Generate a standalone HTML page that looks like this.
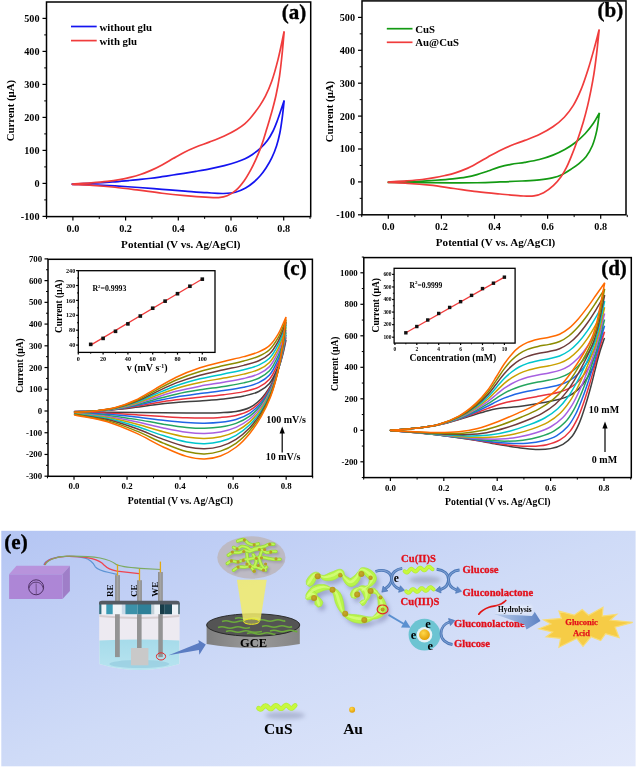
<!DOCTYPE html><html><head><meta charset="utf-8"><style>html,body{margin:0;padding:0;background:#fff;}svg{display:block;filter:blur(0.3px);}text{font-family:"Liberation Serif",serif;}</style></head><body>
<svg width="637" height="768" viewBox="0 0 637 768">
<rect width="637" height="768" fill="#fff"/>
<rect x="46.50" y="2.00" width="264.20" height="214.60" fill="none" stroke="#000" stroke-width="1.50"/>
<line x1="72.90" y1="216.60" x2="72.90" y2="220.60" stroke="#000" stroke-width="1.20"/>
<line x1="125.60" y1="216.60" x2="125.60" y2="220.60" stroke="#000" stroke-width="1.20"/>
<line x1="178.30" y1="216.60" x2="178.30" y2="220.60" stroke="#000" stroke-width="1.20"/>
<line x1="231.00" y1="216.60" x2="231.00" y2="220.60" stroke="#000" stroke-width="1.20"/>
<line x1="283.70" y1="216.60" x2="283.70" y2="220.60" stroke="#000" stroke-width="1.20"/>
<line x1="46.55" y1="216.60" x2="46.55" y2="218.90" stroke="#000" stroke-width="1.00"/>
<line x1="99.25" y1="216.60" x2="99.25" y2="218.90" stroke="#000" stroke-width="1.00"/>
<line x1="151.95" y1="216.60" x2="151.95" y2="218.90" stroke="#000" stroke-width="1.00"/>
<line x1="204.65" y1="216.60" x2="204.65" y2="218.90" stroke="#000" stroke-width="1.00"/>
<line x1="257.35" y1="216.60" x2="257.35" y2="218.90" stroke="#000" stroke-width="1.00"/>
<line x1="310.05" y1="216.60" x2="310.05" y2="218.90" stroke="#000" stroke-width="1.00"/>
<line x1="42.50" y1="216.40" x2="46.50" y2="216.40" stroke="#000" stroke-width="1.20"/>
<line x1="42.50" y1="183.40" x2="46.50" y2="183.40" stroke="#000" stroke-width="1.20"/>
<line x1="42.50" y1="150.40" x2="46.50" y2="150.40" stroke="#000" stroke-width="1.20"/>
<line x1="42.50" y1="117.40" x2="46.50" y2="117.40" stroke="#000" stroke-width="1.20"/>
<line x1="42.50" y1="84.40" x2="46.50" y2="84.40" stroke="#000" stroke-width="1.20"/>
<line x1="42.50" y1="51.40" x2="46.50" y2="51.40" stroke="#000" stroke-width="1.20"/>
<line x1="42.50" y1="18.40" x2="46.50" y2="18.40" stroke="#000" stroke-width="1.20"/>
<line x1="44.20" y1="199.90" x2="46.50" y2="199.90" stroke="#000" stroke-width="1.00"/>
<line x1="44.20" y1="166.90" x2="46.50" y2="166.90" stroke="#000" stroke-width="1.00"/>
<line x1="44.20" y1="133.90" x2="46.50" y2="133.90" stroke="#000" stroke-width="1.00"/>
<line x1="44.20" y1="100.90" x2="46.50" y2="100.90" stroke="#000" stroke-width="1.00"/>
<line x1="44.20" y1="67.90" x2="46.50" y2="67.90" stroke="#000" stroke-width="1.00"/>
<line x1="44.20" y1="34.90" x2="46.50" y2="34.90" stroke="#000" stroke-width="1.00"/>
<text x="72.90" y="232.20" font-size="10.20" text-anchor="middle" fill="#000" font-weight="bold" >0.0</text>
<text x="125.60" y="232.20" font-size="10.20" text-anchor="middle" fill="#000" font-weight="bold" >0.2</text>
<text x="178.30" y="232.20" font-size="10.20" text-anchor="middle" fill="#000" font-weight="bold" >0.4</text>
<text x="231.00" y="232.20" font-size="10.20" text-anchor="middle" fill="#000" font-weight="bold" >0.6</text>
<text x="283.70" y="232.20" font-size="10.20" text-anchor="middle" fill="#000" font-weight="bold" >0.8</text>
<text x="39.50" y="219.87" font-size="10.20" text-anchor="end" fill="#000" font-weight="bold" >-100</text>
<text x="39.50" y="186.87" font-size="10.20" text-anchor="end" fill="#000" font-weight="bold" >0</text>
<text x="39.50" y="153.87" font-size="10.20" text-anchor="end" fill="#000" font-weight="bold" >100</text>
<text x="39.50" y="120.87" font-size="10.20" text-anchor="end" fill="#000" font-weight="bold" >200</text>
<text x="39.50" y="87.87" font-size="10.20" text-anchor="end" fill="#000" font-weight="bold" >300</text>
<text x="39.50" y="54.87" font-size="10.20" text-anchor="end" fill="#000" font-weight="bold" >400</text>
<text x="39.50" y="21.87" font-size="10.20" text-anchor="end" fill="#000" font-weight="bold" >500</text>
<text x="180.80" y="248.20" font-size="11.10" text-anchor="middle" fill="#000" font-weight="bold" >Potential (V vs. Ag/AgCl)</text>
<text x="0" y="0" font-size="10.8" font-weight="bold" text-anchor="middle" transform="translate(14.2,110.6) rotate(-90)">Current (&#956;A)</text>
<text x="294.10" y="18.80" font-size="21.00" text-anchor="middle" fill="#000" font-weight="bold" stroke="#000" stroke-width="0.35">(a)</text>
<line x1="71.00" y1="26.50" x2="96.70" y2="26.50" stroke="#1414F0" stroke-width="1.70"/>
<text x="99.50" y="30.70" font-size="10.80" text-anchor="start" fill="#000" font-weight="bold" >without glu</text>
<line x1="71.00" y1="40.60" x2="96.70" y2="40.60" stroke="#F03C3C" stroke-width="1.70"/>
<text x="99.50" y="44.80" font-size="10.80" text-anchor="start" fill="#000" font-weight="bold" >with glu</text>
<path d="M72.20,184.00 C78.98,183.72 85.79,183.50 92.55,183.15 C99.26,182.80 106.29,182.36 112.60,181.90 C118.26,181.49 123.77,180.98 128.70,180.55 C132.90,180.18 136.56,179.86 140.35,179.47 C143.98,179.10 147.42,178.73 151.00,178.27 C154.64,177.81 158.33,177.24 162.00,176.70 C165.67,176.16 169.33,175.59 173.00,175.03 C176.67,174.46 180.26,173.92 184.00,173.32 C187.91,172.70 191.86,172.06 196.00,171.35 C200.45,170.58 205.17,169.79 209.82,168.85 C214.61,167.88 219.70,166.78 224.32,165.60 C228.62,164.50 232.98,163.30 236.68,162.05 C239.76,161.00 242.42,160.02 245.05,158.75 C247.54,157.55 249.72,156.27 252.07,154.70 C254.69,152.96 257.48,150.94 259.98,148.65 C262.60,146.24 265.21,143.46 267.40,140.50 C269.62,137.50 271.52,134.12 273.20,130.75 C274.88,127.38 276.17,123.76 277.48,120.28 C278.75,116.88 279.82,113.45 280.95,110.10 C282.06,106.83 283.12,103.63 284.20,100.40 C283.52,106.38 282.92,112.68 282.15,118.35 C281.45,123.50 280.82,128.33 279.85,133.03 C278.94,137.44 277.94,141.62 276.60,145.75 C275.28,149.83 273.68,153.88 271.88,157.65 C270.13,161.29 268.06,164.87 266.00,168.03 C264.15,170.87 262.26,173.42 260.20,175.80 C258.23,178.06 256.27,180.03 253.95,182.00 C251.44,184.14 248.63,186.38 245.60,188.07 C242.47,189.83 239.01,191.39 235.43,192.30 C231.70,193.24 227.88,193.38 223.60,193.50 C218.56,193.64 212.98,193.08 207.07,192.72 C200.25,192.31 192.43,191.64 185.00,191.07 C177.41,190.49 169.67,189.87 162.00,189.28 C154.33,188.68 146.75,188.07 139.00,187.52 C131.09,186.96 122.87,186.40 115.00,185.95 C107.39,185.52 99.85,185.15 92.55,184.88 C85.60,184.61 78.98,184.49 72.20,184.30" fill="none" stroke="#1414F0" stroke-width="1.70" stroke-linejoin="miter" stroke-miterlimit="3" stroke-linecap="round"/>
<path d="M72.20,184.00 C78.53,183.60 85.13,183.26 91.17,182.80 C96.73,182.38 102.16,181.95 107.12,181.38 C111.51,180.86 115.53,180.29 119.47,179.60 C123.15,178.95 126.58,178.25 130.07,177.40 C133.54,176.56 136.92,175.67 140.35,174.52 C143.90,173.35 147.46,171.96 151.00,170.40 C154.67,168.78 158.36,166.87 162.00,164.92 C165.70,162.94 169.33,160.69 173.00,158.60 C176.66,156.52 180.21,154.32 184.00,152.40 C187.87,150.44 191.83,148.71 196.00,147.00 C200.42,145.19 205.18,143.71 209.82,141.90 C214.62,140.04 219.73,138.11 224.32,135.97 C228.66,133.96 233.06,131.69 236.68,129.47 C239.71,127.62 242.37,125.77 244.70,123.80 C246.75,122.07 248.35,120.34 250.05,118.45 C251.79,116.51 253.40,114.44 255.03,112.30 C256.72,110.08 258.36,107.88 260.00,105.38 C261.83,102.57 263.67,99.67 265.43,96.20 C267.55,91.99 269.66,87.15 271.57,81.78 C273.89,75.30 275.94,67.72 277.93,59.90 C280.18,51.04 282.11,40.83 284.20,31.30 C283.48,39.07 282.85,46.98 282.05,54.60 C281.28,61.97 280.54,69.37 279.50,76.30 C278.54,82.72 277.36,89.04 276.12,94.78 C275.03,99.84 273.78,104.58 272.60,109.00 C271.56,112.90 270.50,116.37 269.45,119.95 C268.44,123.40 267.43,126.72 266.40,130.10 C265.38,133.47 264.39,136.88 263.30,140.18 C262.24,143.39 261.18,146.49 259.98,149.62 C258.75,152.80 257.46,155.88 256.00,159.10 C254.44,162.54 252.80,166.11 250.88,169.65 C248.83,173.41 246.58,177.49 244.02,181.00 C241.54,184.41 238.78,187.91 235.80,190.45 C233.12,192.74 230.18,194.63 227.20,195.82 C224.43,196.94 221.78,197.33 218.60,197.60 C214.74,197.92 210.46,197.40 205.65,197.12 C199.56,196.78 192.06,196.18 185.00,195.55 C177.54,194.89 169.66,194.12 162.00,193.23 C154.33,192.33 146.75,191.19 139.00,190.20 C131.09,189.19 122.87,188.08 115.00,187.25 C107.40,186.45 99.85,185.80 92.55,185.30 C85.60,184.83 78.98,184.63 72.20,184.30" fill="none" stroke="#F03C3C" stroke-width="1.70" stroke-linejoin="miter" stroke-miterlimit="3" stroke-linecap="round"/>
<rect x="362.00" y="0.90" width="264.00" height="213.90" fill="none" stroke="#000" stroke-width="1.50"/>
<line x1="388.30" y1="214.80" x2="388.30" y2="218.80" stroke="#000" stroke-width="1.20"/>
<line x1="441.40" y1="214.80" x2="441.40" y2="218.80" stroke="#000" stroke-width="1.20"/>
<line x1="494.50" y1="214.80" x2="494.50" y2="218.80" stroke="#000" stroke-width="1.20"/>
<line x1="547.60" y1="214.80" x2="547.60" y2="218.80" stroke="#000" stroke-width="1.20"/>
<line x1="600.70" y1="214.80" x2="600.70" y2="218.80" stroke="#000" stroke-width="1.20"/>
<line x1="361.75" y1="214.80" x2="361.75" y2="217.10" stroke="#000" stroke-width="1.00"/>
<line x1="414.85" y1="214.80" x2="414.85" y2="217.10" stroke="#000" stroke-width="1.00"/>
<line x1="467.95" y1="214.80" x2="467.95" y2="217.10" stroke="#000" stroke-width="1.00"/>
<line x1="521.05" y1="214.80" x2="521.05" y2="217.10" stroke="#000" stroke-width="1.00"/>
<line x1="574.15" y1="214.80" x2="574.15" y2="217.10" stroke="#000" stroke-width="1.00"/>
<line x1="627.25" y1="214.80" x2="627.25" y2="217.10" stroke="#000" stroke-width="1.00"/>
<line x1="358.00" y1="214.80" x2="362.00" y2="214.80" stroke="#000" stroke-width="1.20"/>
<line x1="358.00" y1="181.90" x2="362.00" y2="181.90" stroke="#000" stroke-width="1.20"/>
<line x1="358.00" y1="149.00" x2="362.00" y2="149.00" stroke="#000" stroke-width="1.20"/>
<line x1="358.00" y1="116.10" x2="362.00" y2="116.10" stroke="#000" stroke-width="1.20"/>
<line x1="358.00" y1="83.20" x2="362.00" y2="83.20" stroke="#000" stroke-width="1.20"/>
<line x1="358.00" y1="50.30" x2="362.00" y2="50.30" stroke="#000" stroke-width="1.20"/>
<line x1="358.00" y1="17.40" x2="362.00" y2="17.40" stroke="#000" stroke-width="1.20"/>
<line x1="359.70" y1="198.35" x2="362.00" y2="198.35" stroke="#000" stroke-width="1.00"/>
<line x1="359.70" y1="165.45" x2="362.00" y2="165.45" stroke="#000" stroke-width="1.00"/>
<line x1="359.70" y1="132.55" x2="362.00" y2="132.55" stroke="#000" stroke-width="1.00"/>
<line x1="359.70" y1="99.65" x2="362.00" y2="99.65" stroke="#000" stroke-width="1.00"/>
<line x1="359.70" y1="66.75" x2="362.00" y2="66.75" stroke="#000" stroke-width="1.00"/>
<line x1="359.70" y1="33.85" x2="362.00" y2="33.85" stroke="#000" stroke-width="1.00"/>
<text x="388.30" y="230.40" font-size="10.20" text-anchor="middle" fill="#000" font-weight="bold" >0.0</text>
<text x="441.40" y="230.40" font-size="10.20" text-anchor="middle" fill="#000" font-weight="bold" >0.2</text>
<text x="494.50" y="230.40" font-size="10.20" text-anchor="middle" fill="#000" font-weight="bold" >0.4</text>
<text x="547.60" y="230.40" font-size="10.20" text-anchor="middle" fill="#000" font-weight="bold" >0.6</text>
<text x="600.70" y="230.40" font-size="10.20" text-anchor="middle" fill="#000" font-weight="bold" >0.8</text>
<text x="355.00" y="218.27" font-size="10.20" text-anchor="end" fill="#000" font-weight="bold" >-100</text>
<text x="355.00" y="185.37" font-size="10.20" text-anchor="end" fill="#000" font-weight="bold" >0</text>
<text x="355.00" y="152.47" font-size="10.20" text-anchor="end" fill="#000" font-weight="bold" >100</text>
<text x="355.00" y="119.57" font-size="10.20" text-anchor="end" fill="#000" font-weight="bold" >200</text>
<text x="355.00" y="86.67" font-size="10.20" text-anchor="end" fill="#000" font-weight="bold" >300</text>
<text x="355.00" y="53.77" font-size="10.20" text-anchor="end" fill="#000" font-weight="bold" >400</text>
<text x="355.00" y="20.87" font-size="10.20" text-anchor="end" fill="#000" font-weight="bold" >500</text>
<text x="495.50" y="246.40" font-size="11.10" text-anchor="middle" fill="#000" font-weight="bold" >Potential (V vs. Ag/AgCl)</text>
<text x="0" y="0" font-size="10.8" font-weight="bold" text-anchor="middle" transform="translate(332.6,111.5) rotate(-90)">Current (&#956;A)</text>
<text x="610.30" y="17.30" font-size="21.00" text-anchor="middle" fill="#000" font-weight="bold" stroke="#000" stroke-width="0.35">(b)</text>
<line x1="386.80" y1="28.70" x2="412.50" y2="28.70" stroke="#139A13" stroke-width="1.70"/>
<text x="415.30" y="32.80" font-size="10.80" text-anchor="start" fill="#000" font-weight="bold" >CuS</text>
<line x1="386.80" y1="42.30" x2="412.50" y2="42.30" stroke="#F03C3C" stroke-width="1.70"/>
<text x="415.30" y="46.40" font-size="10.80" text-anchor="start" fill="#000" font-weight="bold" >Au@CuS</text>
<path d="M388.30,182.00 C393.89,181.89 399.71,181.81 405.07,181.68 C410.03,181.55 414.47,181.47 419.38,181.25 C424.59,181.01 430.05,180.67 435.50,180.27 C441.12,179.87 447.27,179.42 452.62,178.85 C457.36,178.35 461.78,177.88 466.00,177.12 C469.86,176.43 473.36,175.60 477.00,174.58 C480.69,173.54 484.34,172.19 488.00,170.95 C491.67,169.71 495.22,168.22 499.00,167.12 C502.88,166.00 506.84,165.11 511.00,164.32 C515.43,163.49 520.17,163.13 524.83,162.35 C529.61,161.55 534.61,160.77 539.33,159.55 C543.97,158.35 548.60,156.84 552.92,155.12 C557.07,153.48 561.01,151.65 564.77,149.53 C568.49,147.43 572.02,145.10 575.40,142.46 C578.86,139.76 582.28,136.69 585.30,133.47 C588.27,130.30 591.02,126.81 593.40,123.31 C595.69,119.95 597.40,116.37 599.40,112.90 C598.52,118.81 598.02,125.00 596.77,130.64 C595.61,135.92 594.26,141.20 592.33,145.74 C590.59,149.81 588.43,153.64 586.02,156.74 C583.91,159.46 581.47,161.51 578.96,163.59 C576.47,165.66 573.76,167.41 571.03,169.20 C568.23,171.03 565.42,172.98 562.34,174.42 C559.17,175.91 555.84,177.03 552.23,177.93 C548.23,178.91 543.95,179.38 539.33,179.88 C534.00,180.45 528.18,180.67 522.08,181.00 C515.17,181.38 507.43,181.69 500.00,181.97 C492.41,182.27 484.88,182.60 477.00,182.75 C468.66,182.91 460.26,182.88 451.25,182.85 C441.30,182.82 430.31,182.60 419.82,182.53 C409.33,182.45 398.81,182.44 388.30,182.40" fill="none" stroke="#139A13" stroke-width="1.70" stroke-linejoin="miter" stroke-miterlimit="3" stroke-linecap="round"/>
<path d="M388.30,182.00 C394.35,181.62 400.62,181.29 406.45,180.85 C411.87,180.45 417.22,180.07 422.12,179.50 C426.49,178.99 430.53,178.40 434.48,177.70 C438.15,177.05 441.58,176.29 445.07,175.48 C448.54,174.67 451.92,173.90 455.35,172.82 C458.90,171.72 462.47,170.45 466.00,168.90 C469.69,167.29 473.36,165.25 477.00,163.28 C480.69,161.27 484.32,159.01 488.00,156.95 C491.66,154.90 495.22,152.81 499.00,150.93 C502.88,148.99 506.83,147.21 511.00,145.50 C515.41,143.69 520.18,142.20 524.83,140.40 C529.62,138.54 534.64,136.77 539.33,134.50 C544.01,132.23 548.72,129.70 552.92,126.78 C557.03,123.92 560.90,120.79 564.30,117.22 C567.70,113.66 570.62,109.78 573.33,105.40 C576.28,100.61 578.72,95.16 581.10,89.45 C583.71,83.19 585.97,76.07 588.15,69.25 C590.35,62.38 592.34,55.19 594.23,48.40 C596.01,41.96 597.54,35.80 599.20,29.50 C598.32,37.79 597.49,46.57 596.55,54.38 C595.71,61.34 594.86,67.90 593.88,74.12 C592.98,79.76 592.02,84.86 590.98,90.15 C589.94,95.36 588.90,100.38 587.64,105.61 C586.32,111.08 584.88,116.66 583.23,122.28 C581.51,128.11 579.50,134.26 577.50,139.99 C575.59,145.46 573.48,151.02 571.50,155.90 C569.78,160.14 568.21,164.05 566.36,167.67 C564.69,170.96 563.12,173.85 561.03,176.77 C558.81,179.88 556.19,183.06 553.30,185.72 C550.39,188.41 546.99,191.08 543.62,192.80 C540.52,194.38 537.48,195.38 533.95,195.92 C529.91,196.55 525.56,196.06 520.65,195.82 C514.52,195.53 507.07,194.68 500.00,194.00 C492.54,193.28 484.66,192.54 477.00,191.62 C469.33,190.70 461.75,189.53 454.00,188.47 C446.09,187.39 437.85,186.08 430.00,185.20 C422.47,184.36 414.99,183.75 407.82,183.28 C401.11,182.83 394.81,182.69 388.30,182.40" fill="none" stroke="#F03C3C" stroke-width="1.70" stroke-linejoin="miter" stroke-miterlimit="3" stroke-linecap="round"/>
<rect x="48.00" y="259.30" width="264.40" height="217.00" fill="none" stroke="#000" stroke-width="1.50"/>
<line x1="74.00" y1="476.30" x2="74.00" y2="479.80" stroke="#000" stroke-width="1.20"/>
<line x1="127.04" y1="476.30" x2="127.04" y2="479.80" stroke="#000" stroke-width="1.20"/>
<line x1="180.08" y1="476.30" x2="180.08" y2="479.80" stroke="#000" stroke-width="1.20"/>
<line x1="233.12" y1="476.30" x2="233.12" y2="479.80" stroke="#000" stroke-width="1.20"/>
<line x1="286.16" y1="476.30" x2="286.16" y2="479.80" stroke="#000" stroke-width="1.20"/>
<line x1="47.48" y1="476.30" x2="47.48" y2="478.30" stroke="#000" stroke-width="1.00"/>
<line x1="100.52" y1="476.30" x2="100.52" y2="478.30" stroke="#000" stroke-width="1.00"/>
<line x1="153.56" y1="476.30" x2="153.56" y2="478.30" stroke="#000" stroke-width="1.00"/>
<line x1="206.60" y1="476.30" x2="206.60" y2="478.30" stroke="#000" stroke-width="1.00"/>
<line x1="259.64" y1="476.30" x2="259.64" y2="478.30" stroke="#000" stroke-width="1.00"/>
<line x1="312.68" y1="476.30" x2="312.68" y2="478.30" stroke="#000" stroke-width="1.00"/>
<line x1="44.50" y1="476.19" x2="48.00" y2="476.19" stroke="#000" stroke-width="1.20"/>
<line x1="44.50" y1="454.46" x2="48.00" y2="454.46" stroke="#000" stroke-width="1.20"/>
<line x1="44.50" y1="432.73" x2="48.00" y2="432.73" stroke="#000" stroke-width="1.20"/>
<line x1="44.50" y1="411.00" x2="48.00" y2="411.00" stroke="#000" stroke-width="1.20"/>
<line x1="44.50" y1="389.27" x2="48.00" y2="389.27" stroke="#000" stroke-width="1.20"/>
<line x1="44.50" y1="367.54" x2="48.00" y2="367.54" stroke="#000" stroke-width="1.20"/>
<line x1="44.50" y1="345.81" x2="48.00" y2="345.81" stroke="#000" stroke-width="1.20"/>
<line x1="44.50" y1="324.08" x2="48.00" y2="324.08" stroke="#000" stroke-width="1.20"/>
<line x1="44.50" y1="302.35" x2="48.00" y2="302.35" stroke="#000" stroke-width="1.20"/>
<line x1="44.50" y1="280.62" x2="48.00" y2="280.62" stroke="#000" stroke-width="1.20"/>
<line x1="44.50" y1="258.89" x2="48.00" y2="258.89" stroke="#000" stroke-width="1.20"/>
<line x1="46.00" y1="465.32" x2="48.00" y2="465.32" stroke="#000" stroke-width="1.00"/>
<line x1="46.00" y1="443.60" x2="48.00" y2="443.60" stroke="#000" stroke-width="1.00"/>
<line x1="46.00" y1="421.87" x2="48.00" y2="421.87" stroke="#000" stroke-width="1.00"/>
<line x1="46.00" y1="400.13" x2="48.00" y2="400.13" stroke="#000" stroke-width="1.00"/>
<line x1="46.00" y1="378.40" x2="48.00" y2="378.40" stroke="#000" stroke-width="1.00"/>
<line x1="46.00" y1="356.68" x2="48.00" y2="356.68" stroke="#000" stroke-width="1.00"/>
<line x1="46.00" y1="334.94" x2="48.00" y2="334.94" stroke="#000" stroke-width="1.00"/>
<line x1="46.00" y1="313.22" x2="48.00" y2="313.22" stroke="#000" stroke-width="1.00"/>
<line x1="46.00" y1="291.49" x2="48.00" y2="291.49" stroke="#000" stroke-width="1.00"/>
<line x1="46.00" y1="269.75" x2="48.00" y2="269.75" stroke="#000" stroke-width="1.00"/>
<text x="74.00" y="489.40" font-size="8.80" text-anchor="middle" fill="#000" font-weight="bold" >0.0</text>
<text x="127.04" y="489.40" font-size="8.80" text-anchor="middle" fill="#000" font-weight="bold" >0.2</text>
<text x="180.08" y="489.40" font-size="8.80" text-anchor="middle" fill="#000" font-weight="bold" >0.4</text>
<text x="233.12" y="489.40" font-size="8.80" text-anchor="middle" fill="#000" font-weight="bold" >0.6</text>
<text x="286.16" y="489.40" font-size="8.80" text-anchor="middle" fill="#000" font-weight="bold" >0.8</text>
<text x="42.10" y="479.18" font-size="8.80" text-anchor="end" fill="#000" font-weight="bold" >-300</text>
<text x="42.10" y="457.45" font-size="8.80" text-anchor="end" fill="#000" font-weight="bold" >-200</text>
<text x="42.10" y="435.72" font-size="8.80" text-anchor="end" fill="#000" font-weight="bold" >-100</text>
<text x="42.10" y="413.99" font-size="8.80" text-anchor="end" fill="#000" font-weight="bold" >0</text>
<text x="42.10" y="392.26" font-size="8.80" text-anchor="end" fill="#000" font-weight="bold" >100</text>
<text x="42.10" y="370.53" font-size="8.80" text-anchor="end" fill="#000" font-weight="bold" >200</text>
<text x="42.10" y="348.80" font-size="8.80" text-anchor="end" fill="#000" font-weight="bold" >300</text>
<text x="42.10" y="327.07" font-size="8.80" text-anchor="end" fill="#000" font-weight="bold" >400</text>
<text x="42.10" y="305.34" font-size="8.80" text-anchor="end" fill="#000" font-weight="bold" >500</text>
<text x="42.10" y="283.61" font-size="8.80" text-anchor="end" fill="#000" font-weight="bold" >600</text>
<text x="42.10" y="261.88" font-size="8.80" text-anchor="end" fill="#000" font-weight="bold" >700</text>
<text x="180.40" y="504.00" font-size="9.80" text-anchor="middle" fill="#000" font-weight="bold" >Potential (V vs. Ag/AgCl)</text>
<text x="0" y="0" font-size="9.6" font-weight="bold" text-anchor="middle" transform="translate(23.2,365.5) rotate(-90)">Current (&#956;A)</text>
<text x="295.00" y="275.20" font-size="21.00" text-anchor="middle" fill="#000" font-weight="bold" stroke="#000" stroke-width="0.35">(c)</text>
<path d="M74.60,411.50 C81.45,411.29 88.32,411.19 95.15,410.88 C101.95,410.56 108.78,410.21 115.50,409.62 C122.14,409.04 128.67,408.19 135.25,407.38 C141.84,406.56 148.29,405.53 155.00,404.75 C161.95,403.94 168.97,403.26 176.25,402.62 C183.94,401.96 192.08,401.50 200.00,400.88 C207.92,400.25 216.19,399.74 223.75,398.88 C230.72,398.08 237.61,397.35 243.75,396.00 C249.16,394.81 254.34,393.72 258.75,391.50 C262.83,389.45 266.46,387.10 269.50,383.50 C273.09,379.25 275.46,373.21 278.00,366.88 C281.11,359.11 283.33,348.96 286.00,340.00 C284.83,345.17 283.90,350.34 282.50,355.50 C281.07,360.76 279.51,366.15 277.50,371.25 C275.50,376.32 273.24,381.38 270.50,386.00 C267.81,390.54 264.80,395.12 261.25,398.75 C257.85,402.23 253.97,405.38 249.75,407.50 C245.55,409.61 240.77,410.59 236.00,411.45 C231.03,412.35 225.71,412.40 220.50,412.65 C215.21,412.90 209.99,412.90 204.50,412.95 C198.68,413.00 192.88,412.97 186.50,412.95 C179.25,412.92 171.29,412.85 163.25,412.77 C154.59,412.70 145.40,412.59 136.25,412.50 C126.79,412.41 117.33,412.31 107.40,412.23 C96.82,412.14 85.53,412.08 74.60,412.00" fill="none" stroke="#404040" stroke-width="1.50" stroke-linejoin="miter" stroke-miterlimit="3" stroke-linecap="round"/>
<path d="M74.60,411.59 C81.45,411.35 88.32,411.25 95.15,410.88 C101.95,410.52 108.78,410.12 115.50,409.40 C122.14,408.68 128.68,407.65 135.25,406.59 C141.84,405.52 148.29,404.12 155.00,403.01 C161.95,401.86 168.96,400.75 176.25,399.80 C183.94,398.80 192.08,398.05 200.00,397.20 C207.92,396.36 216.18,395.69 223.75,394.71 C230.71,393.81 237.61,393.02 243.75,391.62 C249.16,390.40 254.33,389.30 258.75,387.10 C262.82,385.08 266.45,382.80 269.50,379.29 C273.06,375.18 275.46,369.37 278.00,363.26 C281.10,355.80 283.33,346.05 286.00,337.44 C284.83,343.09 283.90,348.76 282.50,354.39 C281.08,360.10 279.52,365.96 277.50,371.47 C275.51,376.90 273.25,382.29 270.50,387.22 C267.82,392.03 264.80,396.80 261.25,400.72 C257.85,404.48 253.99,407.93 249.75,410.38 C245.56,412.81 240.79,414.25 236.00,415.43 C231.05,416.65 225.72,417.02 220.50,417.46 C215.22,417.91 209.99,418.01 204.50,418.07 C198.68,418.13 192.88,417.99 186.50,417.78 C179.24,417.53 171.29,417.04 163.25,416.57 C154.58,416.06 145.40,415.34 136.25,414.79 C126.79,414.23 117.33,413.68 107.40,413.28 C96.82,412.85 85.53,412.64 74.60,412.32" fill="none" stroke="#E8333C" stroke-width="1.50" stroke-linejoin="miter" stroke-miterlimit="3" stroke-linecap="round"/>
<path d="M74.60,411.68 C81.45,411.42 88.32,411.31 95.15,410.89 C101.95,410.47 108.79,410.03 115.50,409.17 C122.15,408.32 128.69,407.11 135.25,405.80 C141.85,404.48 148.29,402.71 155.00,401.27 C161.94,399.77 168.95,398.24 176.25,396.98 C183.93,395.64 192.08,394.60 200.00,393.53 C207.91,392.46 216.18,391.65 223.75,390.55 C230.71,389.54 237.61,388.68 243.75,387.25 C249.15,385.99 254.32,384.87 258.75,382.70 C262.81,380.71 266.44,378.50 269.50,375.07 C273.03,371.11 275.46,365.54 278.00,359.65 C281.09,352.50 283.33,343.14 286.00,334.89 C284.83,341.02 283.91,347.17 282.50,353.28 C281.08,359.44 279.53,365.77 277.50,371.69 C275.52,377.48 273.27,383.20 270.50,388.44 C267.82,393.51 264.80,398.49 261.25,402.69 C257.85,406.72 254.00,410.47 249.75,413.27 C245.57,416.01 240.81,417.91 236.00,419.41 C231.07,420.94 225.73,421.65 220.50,422.28 C215.23,422.91 209.99,423.12 204.50,423.18 C198.68,423.25 192.88,423.01 186.50,422.60 C179.24,422.13 171.28,421.24 163.25,420.37 C154.58,419.43 145.41,418.08 136.25,417.09 C126.80,416.06 117.33,415.06 107.40,414.33 C96.83,413.55 85.53,413.21 74.60,412.64" fill="none" stroke="#1F66E5" stroke-width="1.50" stroke-linejoin="miter" stroke-miterlimit="3" stroke-linecap="round"/>
<path d="M74.60,411.77 C81.45,411.48 88.32,411.37 95.15,410.90 C101.96,410.43 108.79,409.93 115.50,408.94 C122.16,407.96 128.70,406.57 135.25,405.01 C141.86,403.43 148.29,401.31 155.00,399.52 C161.94,397.68 168.94,395.73 176.25,394.15 C183.92,392.49 192.07,391.15 200.00,389.86 C207.91,388.57 216.18,387.61 223.75,386.39 C230.71,385.27 237.60,384.35 243.75,382.88 C249.15,381.58 254.31,380.45 258.75,378.30 C262.80,376.34 266.43,374.20 269.50,370.86 C273.01,367.04 275.45,361.70 278.00,356.04 C281.08,349.19 283.33,340.24 286.00,332.33 C284.83,338.94 283.91,345.59 282.50,352.17 C281.08,358.78 279.54,365.57 277.50,371.92 C275.52,378.06 273.28,384.11 270.50,389.67 C267.83,395.00 264.80,400.18 261.25,404.67 C257.84,408.97 254.01,413.01 249.75,416.15 C245.58,419.22 240.84,421.57 236.00,423.39 C231.10,425.23 225.74,426.27 220.50,427.09 C215.24,427.91 209.99,428.23 204.50,428.30 C198.68,428.38 192.87,428.02 186.50,427.43 C179.23,426.74 171.28,425.44 163.25,424.17 C154.57,422.79 145.41,420.83 136.25,419.38 C126.81,417.89 117.34,416.44 107.40,415.38 C96.83,414.26 85.53,413.77 74.60,412.97" fill="none" stroke="#25A55F" stroke-width="1.50" stroke-linejoin="miter" stroke-miterlimit="3" stroke-linecap="round"/>
<path d="M74.60,411.86 C81.45,411.54 88.32,411.43 95.15,410.91 C101.96,410.38 108.80,409.83 115.50,408.71 C122.17,407.60 128.71,406.03 135.25,404.22 C141.88,402.39 148.29,399.90 155.00,397.78 C161.94,395.60 168.93,393.23 176.25,391.32 C183.91,389.34 192.07,387.70 200.00,386.19 C207.90,384.67 216.18,383.57 223.75,382.23 C230.71,381.00 237.60,380.01 243.75,378.50 C249.15,377.17 254.30,376.02 258.75,373.90 C262.79,371.97 266.42,369.90 269.50,366.64 C272.98,362.97 275.45,357.86 278.00,352.43 C281.07,345.89 283.33,337.33 286.00,329.78 C284.83,336.87 283.91,344.00 282.50,351.06 C281.08,358.12 279.55,365.38 277.50,372.14 C275.53,378.64 273.29,385.02 270.50,390.89 C267.83,396.49 264.79,401.88 261.25,406.64 C257.84,411.22 254.02,415.55 249.75,419.03 C245.58,422.43 240.87,425.23 236.00,427.37 C231.12,429.52 225.76,430.90 220.50,431.91 C215.26,432.91 209.99,433.34 204.50,433.42 C198.68,433.50 192.86,433.04 186.50,432.25 C179.22,431.35 171.27,429.64 163.25,427.96 C154.57,426.15 145.42,423.58 136.25,421.68 C126.82,419.72 117.36,417.82 107.40,416.44 C96.85,414.97 85.53,414.34 74.60,413.29" fill="none" stroke="#A760E0" stroke-width="1.50" stroke-linejoin="miter" stroke-miterlimit="3" stroke-linecap="round"/>
<path d="M74.60,411.94 C81.45,411.60 88.33,411.49 95.15,410.92 C101.96,410.34 108.81,409.74 115.50,408.49 C122.17,407.24 128.72,405.48 135.25,403.43 C141.89,401.35 148.29,398.49 155.00,396.04 C161.94,393.51 168.92,390.72 176.25,388.50 C183.89,386.19 192.06,384.26 200.00,382.51 C207.89,380.78 216.18,379.52 223.75,378.07 C230.71,376.73 237.60,375.68 243.75,374.12 C249.15,372.76 254.30,371.60 258.75,369.50 C262.78,367.60 266.41,365.59 269.50,362.43 C272.95,358.90 275.44,354.03 278.00,348.82 C281.06,342.58 283.33,334.42 286.00,327.22 C284.83,334.80 283.92,342.42 282.50,349.94 C281.08,357.47 279.56,365.19 277.50,372.36 C275.53,379.21 273.30,385.94 270.50,392.11 C267.84,397.98 264.79,403.57 261.25,408.61 C257.84,413.47 254.03,418.09 249.75,421.92 C245.59,425.64 240.90,428.88 236.00,431.35 C231.14,433.80 225.78,435.52 220.50,436.72 C215.27,437.91 209.99,438.45 204.50,438.53 C198.68,438.63 192.85,438.05 186.50,437.07 C179.21,435.95 171.26,433.83 163.25,431.76 C154.56,429.52 145.44,426.33 136.25,423.97 C126.83,421.56 117.37,419.19 107.40,417.49 C96.86,415.69 85.53,414.90 74.60,413.61" fill="none" stroke="#C9A100" stroke-width="1.50" stroke-linejoin="miter" stroke-miterlimit="3" stroke-linecap="round"/>
<path d="M74.60,412.03 C81.45,411.66 88.33,411.55 95.15,410.93 C101.96,410.30 108.82,409.64 115.50,408.26 C122.18,406.88 128.74,404.93 135.25,402.64 C141.91,400.30 148.29,397.08 155.00,394.30 C161.94,391.42 168.90,388.22 176.25,385.68 C183.88,383.04 192.05,380.81 200.00,378.84 C207.88,376.89 216.17,375.48 223.75,373.91 C230.70,372.46 237.60,371.34 243.75,369.75 C249.14,368.36 254.29,367.17 258.75,365.10 C262.77,363.23 266.40,361.29 269.50,358.22 C272.92,354.83 275.44,350.19 278.00,345.21 C281.05,339.28 283.33,331.51 286.00,324.67 C284.83,332.72 283.92,340.84 282.50,348.83 C281.08,356.81 279.57,364.99 277.50,372.58 C275.53,379.79 273.31,386.85 270.50,393.33 C267.84,399.47 264.78,405.26 261.25,410.58 C257.84,415.72 254.03,420.63 249.75,424.80 C245.59,428.85 240.93,432.53 236.00,435.33 C231.16,438.08 225.80,440.15 220.50,441.53 C215.29,442.90 210.00,443.55 204.50,443.65 C198.68,443.75 192.83,443.06 186.50,441.90 C179.19,440.56 171.25,438.02 163.25,435.56 C154.54,432.88 145.45,429.08 136.25,426.27 C126.84,423.39 117.39,420.57 107.40,418.54 C96.88,416.40 85.53,415.47 74.60,413.93" fill="none" stroke="#00C5CC" stroke-width="1.50" stroke-linejoin="miter" stroke-miterlimit="3" stroke-linecap="round"/>
<path d="M74.60,412.12 C81.45,411.73 88.33,411.62 95.15,410.93 C101.96,410.25 108.83,409.54 115.50,408.03 C122.19,406.52 128.75,404.38 135.25,401.85 C141.92,399.25 148.29,395.67 155.00,392.56 C161.94,389.34 168.88,385.71 176.25,382.85 C183.86,379.89 192.03,377.36 200.00,375.17 C207.87,373.00 216.17,371.44 223.75,369.75 C230.70,368.19 237.59,367.00 243.75,365.38 C249.14,363.95 254.28,362.75 258.75,360.70 C262.76,358.86 266.39,356.98 269.50,354.00 C272.89,350.76 275.43,346.35 278.00,341.60 C281.04,335.97 283.33,328.61 286.00,322.11 C284.83,330.65 283.92,339.25 282.50,347.72 C281.09,356.15 279.58,364.80 277.50,372.81 C275.54,380.37 273.32,387.76 270.50,394.56 C267.85,400.95 264.78,406.96 261.25,412.56 C257.83,417.98 254.03,423.18 249.75,427.68 C245.59,432.07 240.95,436.18 236.00,439.31 C231.18,442.36 225.82,444.77 220.50,446.35 C215.31,447.88 210.00,448.66 204.50,448.77 C198.68,448.87 192.81,448.07 186.50,446.72 C179.17,445.16 171.24,442.21 163.25,439.36 C154.53,436.24 145.47,431.83 136.25,428.56 C126.86,425.23 117.41,421.95 107.40,419.59 C96.90,417.12 85.53,416.04 74.60,414.26" fill="none" stroke="#6E3B3B" stroke-width="1.50" stroke-linejoin="miter" stroke-miterlimit="3" stroke-linecap="round"/>
<path d="M74.60,412.21 C81.45,411.79 88.33,411.68 95.15,410.94 C101.97,410.21 108.84,409.44 115.50,407.80 C122.21,406.15 128.77,403.83 135.25,401.06 C141.94,398.21 148.29,394.26 155.00,390.82 C161.95,387.25 168.87,383.21 176.25,380.02 C183.85,376.75 192.02,373.92 200.00,371.50 C207.86,369.12 216.17,367.40 223.75,365.59 C230.69,363.93 237.59,362.67 243.75,361.00 C249.14,359.54 254.27,358.32 258.75,356.30 C262.75,354.49 266.37,352.68 269.50,349.79 C272.86,346.68 275.43,342.51 278.00,337.99 C281.03,332.66 283.33,325.70 286.00,319.56 C284.83,328.57 283.92,337.67 282.50,346.61 C281.09,355.49 279.59,364.61 277.50,373.03 C275.54,380.95 273.33,388.67 270.50,395.78 C267.85,402.44 264.77,408.66 261.25,414.53 C257.83,420.23 254.02,425.72 249.75,430.57 C245.59,435.29 240.98,439.83 236.00,443.29 C231.20,446.64 225.85,449.39 220.50,451.16 C215.33,452.87 210.00,453.77 204.50,453.88 C198.68,454.00 192.80,453.08 186.50,451.55 C179.15,449.77 171.22,446.40 163.25,443.15 C154.52,439.59 145.48,434.58 136.25,430.86 C126.87,427.07 117.44,423.33 107.40,420.65 C96.92,417.84 85.53,416.60 74.60,414.58" fill="none" stroke="#8C8C00" stroke-width="1.50" stroke-linejoin="miter" stroke-miterlimit="3" stroke-linecap="round"/>
<path d="M74.60,412.30 C81.45,411.85 88.34,411.74 95.15,410.95 C101.97,410.16 108.85,409.34 115.50,407.57 C122.22,405.79 128.79,403.28 135.25,400.27 C141.96,397.16 148.29,392.85 155.00,389.07 C161.95,385.16 168.85,380.71 176.25,377.20 C183.83,373.60 192.01,370.47 200.00,367.82 C207.84,365.23 216.16,363.36 223.75,361.43 C230.69,359.66 237.59,358.33 243.75,356.62 C249.14,355.13 254.27,353.89 258.75,351.90 C262.74,350.12 266.36,348.37 269.50,345.57 C272.83,342.61 275.42,338.68 278.00,334.38 C281.01,329.36 283.33,322.79 286.00,317.00 C284.83,326.50 283.93,336.08 282.50,345.50 C281.09,354.83 279.59,364.41 277.50,373.25 C275.54,381.53 273.33,389.58 270.50,397.00 C267.85,403.93 264.76,410.35 261.25,416.50 C257.83,422.49 254.02,428.27 249.75,433.45 C245.58,438.50 241.01,443.47 236.00,447.27 C231.22,450.91 225.87,454.02 220.50,455.98 C215.36,457.85 210.00,458.88 204.50,459.00 C198.69,459.12 192.78,458.08 186.50,456.38 C179.13,454.38 171.21,450.59 163.25,446.95 C154.50,442.95 145.50,437.34 136.25,433.15 C126.89,428.91 117.46,424.71 107.40,421.70 C96.95,418.57 85.53,417.17 74.60,414.90" fill="none" stroke="#FF6A00" stroke-width="1.50" stroke-linejoin="miter" stroke-miterlimit="3" stroke-linecap="round"/>
<text x="286.00" y="422.60" font-size="10.00" text-anchor="middle" fill="#000" font-weight="bold" >100 mV/s</text>
<text x="283.00" y="460.40" font-size="10.00" text-anchor="middle" fill="#000" font-weight="bold" >10 mV/s</text>
<line x1="282.20" y1="452.50" x2="282.20" y2="432.00" stroke="#000" stroke-width="1.20"/>
<path d="M282.2,426.5 L279.6,433.5 L284.8,433.5 Z" fill="#000"/>
<rect x="78.30" y="270.70" width="136.70" height="81.70" fill="none" stroke="#000" stroke-width="1.30"/>
<line x1="78.30" y1="352.40" x2="78.30" y2="354.60" stroke="#000" stroke-width="1.20"/>
<line x1="103.10" y1="352.40" x2="103.10" y2="354.60" stroke="#000" stroke-width="1.20"/>
<line x1="127.90" y1="352.40" x2="127.90" y2="354.60" stroke="#000" stroke-width="1.20"/>
<line x1="152.70" y1="352.40" x2="152.70" y2="354.60" stroke="#000" stroke-width="1.20"/>
<line x1="177.50" y1="352.40" x2="177.50" y2="354.60" stroke="#000" stroke-width="1.20"/>
<line x1="202.30" y1="352.40" x2="202.30" y2="354.60" stroke="#000" stroke-width="1.20"/>
<line x1="90.70" y1="352.40" x2="90.70" y2="353.70" stroke="#000" stroke-width="1.00"/>
<line x1="115.50" y1="352.40" x2="115.50" y2="353.70" stroke="#000" stroke-width="1.00"/>
<line x1="140.30" y1="352.40" x2="140.30" y2="353.70" stroke="#000" stroke-width="1.00"/>
<line x1="165.10" y1="352.40" x2="165.10" y2="353.70" stroke="#000" stroke-width="1.00"/>
<line x1="189.90" y1="352.40" x2="189.90" y2="353.70" stroke="#000" stroke-width="1.00"/>
<line x1="76.10" y1="345.10" x2="78.30" y2="345.10" stroke="#000" stroke-width="1.20"/>
<line x1="76.10" y1="330.20" x2="78.30" y2="330.20" stroke="#000" stroke-width="1.20"/>
<line x1="76.10" y1="315.30" x2="78.30" y2="315.30" stroke="#000" stroke-width="1.20"/>
<line x1="76.10" y1="300.40" x2="78.30" y2="300.40" stroke="#000" stroke-width="1.20"/>
<line x1="76.10" y1="285.50" x2="78.30" y2="285.50" stroke="#000" stroke-width="1.20"/>
<line x1="76.10" y1="270.60" x2="78.30" y2="270.60" stroke="#000" stroke-width="1.20"/>
<line x1="77.00" y1="337.65" x2="78.30" y2="337.65" stroke="#000" stroke-width="1.00"/>
<line x1="77.00" y1="322.75" x2="78.30" y2="322.75" stroke="#000" stroke-width="1.00"/>
<line x1="77.00" y1="307.85" x2="78.30" y2="307.85" stroke="#000" stroke-width="1.00"/>
<line x1="77.00" y1="292.95" x2="78.30" y2="292.95" stroke="#000" stroke-width="1.00"/>
<line x1="77.00" y1="278.05" x2="78.30" y2="278.05" stroke="#000" stroke-width="1.00"/>
<text x="78.30" y="360.90" font-size="6.20" text-anchor="middle" fill="#000" font-weight="bold" >0</text>
<text x="103.10" y="360.90" font-size="6.20" text-anchor="middle" fill="#000" font-weight="bold" >20</text>
<text x="127.90" y="360.90" font-size="6.20" text-anchor="middle" fill="#000" font-weight="bold" >40</text>
<text x="152.70" y="360.90" font-size="6.20" text-anchor="middle" fill="#000" font-weight="bold" >60</text>
<text x="177.50" y="360.90" font-size="6.20" text-anchor="middle" fill="#000" font-weight="bold" >80</text>
<text x="202.30" y="360.90" font-size="6.20" text-anchor="middle" fill="#000" font-weight="bold" >100</text>
<text x="75.30" y="347.21" font-size="6.20" text-anchor="end" fill="#000" font-weight="bold" >40</text>
<text x="75.30" y="332.31" font-size="6.20" text-anchor="end" fill="#000" font-weight="bold" >80</text>
<text x="75.30" y="317.41" font-size="6.20" text-anchor="end" fill="#000" font-weight="bold" >120</text>
<text x="75.30" y="302.51" font-size="6.20" text-anchor="end" fill="#000" font-weight="bold" >160</text>
<text x="75.30" y="287.61" font-size="6.20" text-anchor="end" fill="#000" font-weight="bold" >200</text>
<text x="75.30" y="272.71" font-size="6.20" text-anchor="end" fill="#000" font-weight="bold" >240</text>
<text x="147.10" y="371.40" font-size="10.00" text-anchor="middle" fill="#000" font-weight="bold" >v (mV s<tspan font-size="5.8" dy="-3.8">-1</tspan><tspan dy="3.8">)</tspan></text>
<text x="0" y="0" font-size="9.4" font-weight="bold" text-anchor="middle" transform="translate(62.2,306.3) rotate(-90)">Current (&#956;A)</text>
<text x="92.40" y="291.00" font-size="7.80" text-anchor="start" fill="#000" font-weight="bold" >R<tspan font-size="4.8" dy="-3.3">2</tspan><tspan dy="3.3">=0.9993</tspan></text>
<line x1="90.70" y1="345.10" x2="202.30" y2="278.98" stroke="#F03C3C" stroke-width="1.30"/>
<rect x="88.90" y="342.56" width="3.6" height="3.6" fill="#111"/>
<rect x="101.30" y="336.60" width="3.6" height="3.6" fill="#111"/>
<rect x="113.70" y="329.52" width="3.6" height="3.6" fill="#111"/>
<rect x="126.10" y="322.07" width="3.6" height="3.6" fill="#111"/>
<rect x="138.50" y="314.25" width="3.6" height="3.6" fill="#111"/>
<rect x="150.90" y="306.42" width="3.6" height="3.6" fill="#111"/>
<rect x="163.30" y="299.35" width="3.6" height="3.6" fill="#111"/>
<rect x="175.70" y="291.90" width="3.6" height="3.6" fill="#111"/>
<rect x="188.10" y="284.44" width="3.6" height="3.6" fill="#111"/>
<rect x="200.50" y="277.37" width="3.6" height="3.6" fill="#111"/>
<rect x="363.80" y="257.60" width="267.50" height="220.00" fill="none" stroke="#000" stroke-width="1.50"/>
<line x1="390.40" y1="477.60" x2="390.40" y2="481.00" stroke="#000" stroke-width="1.20"/>
<line x1="443.80" y1="477.60" x2="443.80" y2="481.00" stroke="#000" stroke-width="1.20"/>
<line x1="497.20" y1="477.60" x2="497.20" y2="481.00" stroke="#000" stroke-width="1.20"/>
<line x1="550.60" y1="477.60" x2="550.60" y2="481.00" stroke="#000" stroke-width="1.20"/>
<line x1="604.00" y1="477.60" x2="604.00" y2="481.00" stroke="#000" stroke-width="1.20"/>
<line x1="363.70" y1="477.60" x2="363.70" y2="479.60" stroke="#000" stroke-width="1.00"/>
<line x1="417.10" y1="477.60" x2="417.10" y2="479.60" stroke="#000" stroke-width="1.00"/>
<line x1="470.50" y1="477.60" x2="470.50" y2="479.60" stroke="#000" stroke-width="1.00"/>
<line x1="523.90" y1="477.60" x2="523.90" y2="479.60" stroke="#000" stroke-width="1.00"/>
<line x1="577.30" y1="477.60" x2="577.30" y2="479.60" stroke="#000" stroke-width="1.00"/>
<line x1="630.70" y1="477.60" x2="630.70" y2="479.60" stroke="#000" stroke-width="1.00"/>
<line x1="360.40" y1="461.80" x2="363.80" y2="461.80" stroke="#000" stroke-width="1.20"/>
<line x1="360.40" y1="430.30" x2="363.80" y2="430.30" stroke="#000" stroke-width="1.20"/>
<line x1="360.40" y1="398.80" x2="363.80" y2="398.80" stroke="#000" stroke-width="1.20"/>
<line x1="360.40" y1="367.30" x2="363.80" y2="367.30" stroke="#000" stroke-width="1.20"/>
<line x1="360.40" y1="335.80" x2="363.80" y2="335.80" stroke="#000" stroke-width="1.20"/>
<line x1="360.40" y1="304.30" x2="363.80" y2="304.30" stroke="#000" stroke-width="1.20"/>
<line x1="360.40" y1="272.80" x2="363.80" y2="272.80" stroke="#000" stroke-width="1.20"/>
<line x1="361.80" y1="477.55" x2="363.80" y2="477.55" stroke="#000" stroke-width="1.00"/>
<line x1="361.80" y1="446.05" x2="363.80" y2="446.05" stroke="#000" stroke-width="1.00"/>
<line x1="361.80" y1="414.55" x2="363.80" y2="414.55" stroke="#000" stroke-width="1.00"/>
<line x1="361.80" y1="383.05" x2="363.80" y2="383.05" stroke="#000" stroke-width="1.00"/>
<line x1="361.80" y1="351.55" x2="363.80" y2="351.55" stroke="#000" stroke-width="1.00"/>
<line x1="361.80" y1="320.05" x2="363.80" y2="320.05" stroke="#000" stroke-width="1.00"/>
<line x1="361.80" y1="288.55" x2="363.80" y2="288.55" stroke="#000" stroke-width="1.00"/>
<line x1="361.80" y1="257.05" x2="363.80" y2="257.05" stroke="#000" stroke-width="1.00"/>
<text x="390.40" y="490.70" font-size="8.80" text-anchor="middle" fill="#000" font-weight="bold" >0.0</text>
<text x="443.80" y="490.70" font-size="8.80" text-anchor="middle" fill="#000" font-weight="bold" >0.2</text>
<text x="497.20" y="490.70" font-size="8.80" text-anchor="middle" fill="#000" font-weight="bold" >0.4</text>
<text x="550.60" y="490.70" font-size="8.80" text-anchor="middle" fill="#000" font-weight="bold" >0.6</text>
<text x="604.00" y="490.70" font-size="8.80" text-anchor="middle" fill="#000" font-weight="bold" >0.8</text>
<text x="357.70" y="464.79" font-size="8.80" text-anchor="end" fill="#000" font-weight="bold" >-200</text>
<text x="357.70" y="433.29" font-size="8.80" text-anchor="end" fill="#000" font-weight="bold" >0</text>
<text x="357.70" y="401.79" font-size="8.80" text-anchor="end" fill="#000" font-weight="bold" >200</text>
<text x="357.70" y="370.29" font-size="8.80" text-anchor="end" fill="#000" font-weight="bold" >400</text>
<text x="357.70" y="338.79" font-size="8.80" text-anchor="end" fill="#000" font-weight="bold" >600</text>
<text x="357.70" y="307.29" font-size="8.80" text-anchor="end" fill="#000" font-weight="bold" >800</text>
<text x="357.70" y="275.79" font-size="8.80" text-anchor="end" fill="#000" font-weight="bold" >1000</text>
<text x="497.80" y="504.50" font-size="9.80" text-anchor="middle" fill="#000" font-weight="bold" >Potential (V vs. Ag/AgCl)</text>
<text x="0" y="0" font-size="9.6" font-weight="bold" text-anchor="middle" transform="translate(337.6,363.7) rotate(-90)">Current (&#956;A)</text>
<text x="614.00" y="274.50" font-size="21.00" text-anchor="middle" fill="#000" font-weight="bold" stroke="#000" stroke-width="0.35">(d)</text>
<path d="M390.50,430.30 C398.71,429.65 407.04,429.27 415.12,428.35 C423.02,427.45 430.98,426.42 438.45,424.90 C445.51,423.46 452.37,421.46 458.82,419.60 C464.76,417.89 470.59,415.80 475.80,414.23 C480.21,412.89 484.33,411.65 488.05,410.70 C491.11,409.92 493.75,409.31 496.50,408.82 C499.07,408.37 501.51,408.09 504.02,407.82 C506.54,407.56 509.06,407.44 511.58,407.23 C514.09,407.01 516.54,406.83 519.12,406.52 C521.88,406.20 524.65,405.77 527.62,405.30 C530.91,404.78 534.48,404.12 538.00,403.50 C541.65,402.86 545.50,402.22 549.15,401.50 C552.70,400.80 556.23,400.21 559.60,399.25 C562.87,398.32 566.07,397.45 569.10,395.88 C572.29,394.21 575.36,392.10 578.23,389.38 C581.51,386.24 584.55,382.18 587.38,377.75 C590.63,372.65 593.49,366.52 596.23,360.25 C599.24,353.36 601.74,345.42 604.50,338.00 C604.00,339.42 603.50,340.79 603.00,342.25 C602.47,343.79 601.96,345.34 601.42,347.00 C600.83,348.82 600.22,350.68 599.60,352.75 C598.89,355.14 598.16,357.72 597.42,360.50 C596.58,363.71 595.79,367.15 594.85,370.94 C593.72,375.45 592.52,380.53 591.10,385.77 C589.49,391.74 587.60,398.60 585.62,404.84 C583.69,410.95 581.76,417.39 579.38,422.83 C577.27,427.63 575.23,432.25 572.34,435.92 C569.68,439.31 566.55,442.22 562.96,444.33 C559.28,446.49 554.87,447.77 550.46,448.62 C545.79,449.53 540.77,449.53 535.61,449.40 C529.99,449.26 524.15,448.38 518.02,447.57 C511.27,446.69 504.26,445.44 496.80,444.20 C488.46,442.82 479.85,441.11 470.35,439.62 C459.30,437.90 447.02,436.09 434.43,434.62 C420.54,433.01 405.14,431.87 390.50,430.50" fill="none" stroke="#404040" stroke-width="1.50" stroke-linejoin="miter" stroke-miterlimit="3" stroke-linecap="round"/>
<path d="M390.50,430.30 C398.71,429.65 407.04,429.28 415.12,428.35 C423.02,427.45 430.98,426.44 438.45,424.85 C445.52,423.35 452.38,421.27 458.82,419.21 C464.78,417.30 470.61,414.95 475.80,413.02 C480.22,411.37 484.34,409.76 488.05,408.37 C491.12,407.21 493.75,406.15 496.50,405.23 C499.07,404.37 501.50,403.63 504.02,402.98 C506.53,402.34 509.05,401.86 511.58,401.35 C514.09,400.85 516.53,400.43 519.12,399.94 C521.87,399.42 524.65,398.87 527.62,398.31 C530.91,397.69 534.48,397.01 538.00,396.36 C541.65,395.69 545.50,395.09 549.15,394.36 C552.70,393.64 556.24,393.05 559.60,392.03 C562.88,391.04 566.07,390.03 569.10,388.36 C572.30,386.59 575.35,384.35 578.23,381.56 C581.50,378.37 584.54,374.32 587.38,369.93 C590.60,364.94 593.48,359.01 596.23,352.97 C599.23,346.40 601.76,338.90 604.52,331.87 C603.99,333.60 603.45,335.29 602.91,337.08 C602.34,338.96 601.79,340.89 601.21,342.89 C600.57,345.03 599.92,347.22 599.24,349.56 C598.49,352.13 597.72,354.81 596.92,357.69 C596.02,360.94 595.16,364.32 594.13,368.06 C592.91,372.48 591.59,377.42 590.06,382.52 C588.34,388.30 586.34,394.91 584.23,400.94 C582.16,406.87 580.10,413.10 577.55,418.40 C575.26,423.15 572.98,427.73 569.91,431.39 C567.04,434.82 563.70,437.73 559.92,439.93 C556.04,442.20 551.46,443.61 546.86,444.67 C541.99,445.80 536.74,446.17 531.40,446.32 C525.67,446.48 519.72,445.99 513.54,445.45 C506.82,444.87 499.92,443.85 492.58,442.82 C484.42,441.68 476.03,440.16 466.81,438.84 C456.14,437.32 444.35,435.65 432.28,434.31 C419.03,432.84 404.43,431.77 390.50,430.50" fill="none" stroke="#E8333C" stroke-width="1.50" stroke-linejoin="miter" stroke-miterlimit="3" stroke-linecap="round"/>
<path d="M390.50,430.30 C398.71,429.65 407.04,429.28 415.12,428.35 C423.02,427.44 430.99,426.45 438.45,424.80 C445.53,423.23 452.40,421.08 458.82,418.82 C464.80,416.72 470.63,414.10 475.80,411.81 C480.24,409.85 484.36,407.86 488.05,406.03 C491.14,404.50 493.75,402.99 496.50,401.64 C499.07,400.38 501.49,399.18 504.02,398.14 C506.52,397.13 509.05,396.28 511.58,395.48 C514.08,394.69 516.53,394.02 519.12,393.35 C521.87,392.63 524.64,391.98 527.62,391.32 C530.91,390.60 534.48,389.90 538.00,389.23 C541.65,388.53 545.50,387.97 549.15,387.22 C552.70,386.49 556.24,385.89 559.60,384.81 C562.89,383.75 566.08,382.60 569.10,380.84 C572.30,378.96 575.35,376.60 578.23,373.74 C581.48,370.50 584.52,366.46 587.38,362.11 C590.58,357.23 593.47,351.51 596.24,345.69 C599.22,339.44 601.77,332.39 604.54,325.73 C603.97,327.79 603.40,329.79 602.82,331.91 C602.21,334.13 601.62,336.43 600.99,338.78 C600.31,341.24 599.62,343.76 598.88,346.36 C598.10,349.12 597.28,351.91 596.41,354.89 C595.46,358.16 594.52,361.48 593.41,365.17 C592.10,369.51 590.66,374.31 589.03,379.27 C587.18,384.86 585.08,391.22 582.84,397.04 C580.64,402.79 578.44,408.82 575.73,413.98 C573.26,418.68 570.73,423.20 567.48,426.86 C564.40,430.33 560.84,433.25 556.88,435.54 C552.80,437.91 548.05,439.45 543.25,440.73 C538.18,442.07 532.72,442.80 527.18,443.24 C521.34,443.71 515.29,443.59 509.06,443.32 C502.38,443.04 495.58,442.26 488.36,441.45 C480.39,440.55 472.21,439.21 463.26,438.06 C452.99,436.73 441.68,435.21 430.14,433.99 C417.53,432.66 403.71,431.66 390.50,430.50" fill="none" stroke="#1F66E5" stroke-width="1.50" stroke-linejoin="miter" stroke-miterlimit="3" stroke-linecap="round"/>
<path d="M390.50,430.30 C398.71,429.65 407.05,429.29 415.12,428.35 C423.02,427.43 431.00,426.47 438.45,424.75 C445.53,423.11 452.42,420.89 458.82,418.43 C464.82,416.13 470.65,413.24 475.80,410.61 C480.27,408.32 484.38,405.96 488.05,403.70 C491.17,401.78 493.75,399.83 496.50,398.05 C499.07,396.38 501.48,394.72 504.02,393.30 C506.50,391.92 509.03,390.71 511.58,389.61 C514.07,388.53 516.52,387.62 519.12,386.76 C521.86,385.85 524.64,385.08 527.62,384.33 C530.90,383.51 534.47,382.79 538.00,382.09 C541.64,381.37 545.50,380.84 549.15,380.08 C552.70,379.33 556.25,378.73 559.60,377.59 C562.90,376.47 566.08,375.18 569.10,373.32 C572.31,371.34 575.34,368.85 578.23,365.92 C581.47,362.63 584.51,358.59 587.38,354.29 C590.55,349.52 593.45,344.00 596.24,338.42 C599.21,332.48 601.79,325.87 604.57,319.60 C603.96,321.98 603.35,324.29 602.73,326.73 C602.08,329.31 601.45,331.98 600.77,334.67 C600.05,337.45 599.32,340.30 598.52,343.17 C597.71,346.11 596.84,349.02 595.91,352.08 C594.91,355.38 593.89,358.65 592.69,362.29 C591.30,366.54 589.73,371.20 587.99,376.02 C586.03,381.43 583.81,387.53 581.45,393.14 C579.11,398.71 576.77,404.54 573.90,409.55 C571.25,414.20 568.48,418.68 565.05,422.33 C561.76,425.83 557.99,428.77 553.85,431.15 C549.56,433.62 544.64,435.29 539.65,436.77 C534.38,438.34 528.69,439.42 522.97,440.16 C517.01,440.93 510.87,441.20 504.58,441.20 C497.94,441.21 491.25,440.68 484.14,440.07 C476.35,439.41 468.39,438.26 459.72,437.28 C449.83,436.15 439.02,434.77 427.99,433.68 C416.02,432.49 403.00,431.56 390.50,430.50" fill="none" stroke="#25A55F" stroke-width="1.50" stroke-linejoin="miter" stroke-miterlimit="3" stroke-linecap="round"/>
<path d="M390.50,430.30 C398.71,429.65 407.05,429.30 415.12,428.35 C423.02,427.42 431.01,426.49 438.45,424.70 C445.54,423.00 452.44,420.69 458.82,418.04 C464.84,415.55 470.68,412.38 475.80,409.40 C480.29,406.80 484.41,404.04 488.05,401.37 C491.19,399.06 493.76,396.67 496.50,394.46 C499.07,392.38 501.46,390.27 504.02,388.46 C506.49,386.71 509.02,385.13 511.58,383.74 C514.05,382.38 516.50,381.22 519.12,380.17 C521.84,379.08 524.63,378.19 527.62,377.34 C530.89,376.43 534.47,375.68 538.00,374.96 C541.64,374.21 545.51,373.71 549.15,372.93 C552.70,372.18 556.26,371.57 559.60,370.37 C562.91,369.19 566.08,367.75 569.10,365.80 C572.31,363.72 575.33,361.10 578.23,358.10 C581.45,354.76 584.49,350.73 587.38,346.47 C590.53,341.82 593.44,336.49 596.25,331.14 C599.19,325.52 601.81,319.36 604.59,313.47 C603.94,316.16 603.30,318.79 602.64,321.56 C601.95,324.48 601.28,327.53 600.55,330.56 C599.79,333.66 599.02,336.85 598.17,339.97 C597.31,343.09 596.41,346.12 595.40,349.28 C594.35,352.59 593.26,355.81 591.97,359.41 C590.49,363.57 588.81,368.10 586.96,372.76 C584.88,377.99 582.55,383.84 580.06,389.24 C577.59,394.63 575.09,400.25 572.08,405.12 C569.24,409.72 566.23,414.16 562.62,417.80 C559.11,421.33 555.14,424.28 550.81,426.76 C546.31,429.33 541.23,431.13 536.05,432.82 C530.57,434.61 524.66,436.04 518.75,437.08 C512.68,438.14 506.44,438.80 500.09,439.07 C493.51,439.36 486.91,439.09 479.92,438.70 C472.32,438.28 464.57,437.32 456.17,436.49 C446.68,435.56 436.35,434.33 425.85,433.36 C414.52,432.32 402.28,431.45 390.50,430.50" fill="none" stroke="#A760E0" stroke-width="1.50" stroke-linejoin="miter" stroke-miterlimit="3" stroke-linecap="round"/>
<path d="M390.50,430.30 C398.71,429.65 407.05,429.31 415.12,428.35 C423.02,427.41 431.01,426.50 438.45,424.65 C445.55,422.88 452.46,420.49 458.82,417.66 C464.87,414.96 470.70,411.50 475.80,408.20 C480.32,405.26 484.43,402.12 488.05,399.03 C491.22,396.33 493.76,393.51 496.50,390.87 C499.08,388.38 501.45,385.83 504.02,383.62 C506.48,381.51 509.00,379.56 511.58,377.86 C514.04,376.24 516.48,374.82 519.12,373.58 C521.83,372.31 524.62,371.29 527.62,370.36 C530.88,369.34 534.47,368.57 538.00,367.82 C541.64,367.04 545.51,366.58 549.15,365.79 C552.70,365.02 556.27,364.41 559.60,363.15 C562.92,361.90 566.09,360.33 569.10,358.28 C572.31,356.09 575.32,353.35 578.23,350.28 C581.44,346.89 584.47,342.86 587.38,338.65 C590.51,334.11 593.43,328.98 596.25,323.86 C599.18,318.56 601.83,312.84 604.61,307.33 C603.93,310.35 603.25,313.29 602.56,316.39 C601.82,319.65 601.11,323.07 600.33,326.44 C599.53,329.87 598.73,333.40 597.81,336.78 C596.91,340.07 595.97,343.23 594.90,346.47 C593.79,349.81 592.62,352.98 591.25,356.53 C589.68,360.59 587.88,364.99 585.92,369.51 C583.73,374.55 581.28,380.15 578.67,385.34 C576.06,390.55 573.42,395.96 570.26,400.70 C567.23,405.24 563.99,409.63 560.18,413.27 C556.47,416.83 552.29,419.80 547.77,422.37 C543.07,425.04 537.81,426.98 532.44,428.88 C526.76,430.88 520.63,432.66 514.54,434.00 C508.36,435.36 502.02,436.39 495.61,436.95 C489.08,437.52 482.58,437.50 475.70,437.32 C468.29,437.14 460.75,436.37 452.63,435.71 C443.53,434.97 433.68,433.88 423.70,433.04 C413.02,432.14 401.57,431.35 390.50,430.50" fill="none" stroke="#C9A100" stroke-width="1.50" stroke-linejoin="miter" stroke-miterlimit="3" stroke-linecap="round"/>
<path d="M390.50,430.30 C398.71,429.65 407.05,429.32 415.12,428.35 C423.02,427.40 431.02,426.52 438.45,424.60 C445.56,422.77 452.48,420.29 458.82,417.27 C464.90,414.37 470.73,410.63 475.80,406.99 C480.36,403.73 484.45,400.18 488.05,396.70 C491.25,393.60 493.77,390.34 496.50,387.27 C499.09,384.37 501.44,381.38 504.02,378.77 C506.47,376.31 508.98,374.00 511.58,371.99 C514.02,370.10 516.46,368.42 519.12,366.99 C521.81,365.54 524.61,364.39 527.62,363.37 C530.87,362.26 534.46,361.46 538.00,360.68 C541.64,359.88 545.51,359.45 549.15,358.65 C552.70,357.86 556.28,357.25 559.60,355.93 C562.93,354.62 566.09,352.90 569.10,350.76 C572.32,348.47 575.31,345.59 578.23,342.46 C581.42,339.03 584.46,334.99 587.38,330.83 C590.48,326.40 593.41,321.47 596.26,316.58 C599.17,311.60 601.84,306.33 604.63,301.20 C603.91,304.54 603.20,307.79 602.47,311.22 C601.69,314.82 600.94,318.62 600.11,322.33 C599.27,326.08 598.43,329.95 597.45,333.58 C596.52,337.05 595.54,340.34 594.39,343.67 C593.24,347.02 591.99,350.14 590.53,353.65 C588.87,357.62 586.96,361.88 584.88,366.26 C582.58,371.11 580.01,376.46 577.28,381.45 C574.53,386.47 571.74,391.68 568.43,396.27 C565.21,400.76 561.74,405.11 557.75,408.74 C553.83,412.33 549.43,415.32 544.73,417.98 C539.83,420.75 534.39,422.82 528.84,424.92 C522.95,427.16 516.60,429.27 510.32,430.92 C504.03,432.57 497.59,433.99 491.12,434.83 C484.65,435.67 478.25,435.91 471.48,435.95 C464.26,435.99 456.93,435.42 449.08,434.92 C440.38,434.38 431.01,433.44 421.56,432.73 C411.52,431.96 400.85,431.24 390.50,430.50" fill="none" stroke="#00C5CC" stroke-width="1.50" stroke-linejoin="miter" stroke-miterlimit="3" stroke-linecap="round"/>
<path d="M390.50,430.30 C398.71,429.65 407.05,429.33 415.12,428.35 C423.03,427.40 431.03,426.53 438.45,424.55 C445.57,422.65 452.51,420.08 458.82,416.88 C464.92,413.78 470.75,409.74 475.80,405.79 C480.39,402.19 484.47,398.25 488.05,394.37 C491.28,390.87 493.77,387.17 496.50,383.68 C499.09,380.37 501.43,376.94 504.02,373.93 C506.46,371.11 508.97,368.43 511.58,366.12 C514.01,363.96 516.44,362.03 519.12,360.40 C521.80,358.78 524.60,357.50 527.62,356.38 C530.86,355.18 534.46,354.35 538.00,353.55 C541.63,352.72 545.51,352.33 549.15,351.51 C552.71,350.71 556.29,350.08 559.60,348.71 C562.94,347.33 566.09,345.48 569.10,343.24 C572.32,340.85 575.30,337.84 578.23,334.64 C581.41,331.16 584.44,327.12 587.38,323.01 C590.46,318.70 593.39,313.95 596.26,309.31 C599.15,304.63 601.86,299.81 604.66,295.07 C603.90,298.73 603.15,302.29 602.38,306.04 C601.56,310.00 600.77,314.17 599.89,318.22 C599.01,322.28 598.13,326.50 597.09,330.39 C596.12,334.03 595.11,337.45 593.89,340.86 C592.68,344.24 591.36,347.31 589.81,350.76 C588.07,354.65 586.03,358.78 583.85,363.01 C581.44,367.67 578.74,372.77 575.89,377.55 C573.00,382.39 570.06,387.39 566.61,391.85 C563.19,396.27 559.49,400.58 555.32,404.21 C551.18,407.82 546.58,410.83 541.69,413.58 C536.58,416.46 530.97,418.66 525.23,420.98 C519.14,423.43 512.56,425.88 506.11,427.84 C499.69,429.78 493.16,431.58 486.64,432.70 C480.22,433.81 473.92,434.32 467.26,434.58 C460.24,434.84 453.11,434.47 445.54,434.14 C437.23,433.78 428.34,433.00 419.41,432.41 C410.02,431.79 400.14,431.14 390.50,430.50" fill="none" stroke="#6E3B3B" stroke-width="1.50" stroke-linejoin="miter" stroke-miterlimit="3" stroke-linecap="round"/>
<path d="M390.50,430.30 C398.71,429.65 407.05,429.33 415.12,428.35 C423.03,427.39 431.04,426.54 438.45,424.50 C445.58,422.53 452.53,419.87 458.82,416.49 C464.95,413.20 470.78,408.85 475.80,404.58 C480.42,400.65 484.49,396.31 488.05,392.03 C491.30,388.13 493.78,384.00 496.50,380.09 C499.10,376.36 501.42,372.49 504.02,369.09 C506.46,365.91 508.95,362.87 511.58,360.25 C514.00,357.83 516.42,355.63 519.12,353.81 C521.78,352.03 524.59,350.60 527.62,349.39 C530.85,348.10 534.46,347.24 538.00,346.41 C541.63,345.56 545.51,345.20 549.15,344.37 C552.71,343.55 556.29,342.92 559.60,341.49 C562.95,340.05 566.09,338.05 569.10,335.72 C572.32,333.22 575.28,330.09 578.23,326.82 C581.39,323.30 584.42,319.25 587.38,315.19 C590.44,311.00 593.37,306.43 596.27,302.03 C599.14,297.67 601.88,293.30 604.68,288.93 C603.88,292.91 603.10,296.79 602.29,300.87 C601.43,305.17 600.60,309.72 599.67,314.11 C598.74,318.49 597.83,323.06 596.73,327.19 C595.72,331.00 594.68,334.56 593.38,338.06 C592.12,341.45 590.73,344.48 589.09,347.88 C587.26,351.69 585.11,355.67 582.81,359.75 C580.29,364.23 577.47,369.08 574.50,373.65 C571.47,378.31 568.37,383.10 564.79,387.43 C561.18,391.78 557.25,396.05 552.89,399.68 C548.53,403.31 543.73,406.35 538.65,409.19 C533.34,412.16 527.55,414.51 521.63,417.02 C515.33,419.71 508.52,422.48 501.89,424.76 C495.36,426.99 488.74,429.16 482.16,430.57 C475.79,431.94 469.59,432.73 463.04,433.20 C456.21,433.69 449.29,433.52 441.99,433.36 C434.08,433.19 425.67,432.56 417.27,432.09 C408.52,431.61 399.42,431.03 390.50,430.50" fill="none" stroke="#8C8C00" stroke-width="1.50" stroke-linejoin="miter" stroke-miterlimit="3" stroke-linecap="round"/>
<path d="M390.50,430.30 C398.71,429.65 407.05,429.34 415.12,428.35 C423.03,427.38 431.05,426.56 438.45,424.45 C445.59,422.42 452.55,419.66 458.82,416.10 C464.98,412.61 470.80,407.96 475.80,403.38 C480.45,399.11 484.50,394.36 488.05,389.70 C491.33,385.39 493.78,380.83 496.50,376.50 C499.10,372.35 501.41,368.05 504.02,364.25 C506.45,360.71 508.94,357.31 511.58,354.38 C513.99,351.69 516.40,349.24 519.12,347.22 C521.76,345.27 524.57,343.71 527.62,342.40 C530.84,341.02 534.46,340.13 538.00,339.27 C541.63,338.40 545.51,338.07 549.15,337.23 C552.71,336.40 556.30,335.76 559.60,334.27 C562.96,332.77 566.09,330.63 569.10,328.20 C572.32,325.60 575.27,322.34 578.23,319.00 C581.38,315.43 584.40,311.37 587.38,307.38 C590.42,303.29 593.35,298.90 596.28,294.75 C599.12,290.71 601.89,286.78 604.70,282.80 C603.87,287.10 603.05,291.29 602.20,295.70 C601.30,300.34 600.43,305.26 599.45,310.00 C598.48,314.70 597.54,319.61 596.38,324.00 C595.32,327.98 594.25,331.68 592.88,335.25 C591.56,338.66 590.10,341.66 588.38,345.00 C586.46,348.72 584.19,352.57 581.77,356.50 C579.14,360.80 576.20,365.39 573.11,369.75 C569.94,374.23 566.69,378.81 562.96,383.00 C559.15,387.28 555.00,391.53 550.46,395.15 C545.89,398.80 540.88,401.87 535.61,404.80 C530.10,407.87 524.13,410.35 518.02,413.07 C511.52,415.98 504.48,419.09 497.68,421.68 C491.03,424.20 484.31,426.74 477.68,428.45 C471.36,430.08 465.26,431.13 458.82,431.82 C452.19,432.54 445.47,432.57 438.45,432.57 C430.94,432.58 423.00,432.11 415.12,431.77 C407.03,431.43 398.71,430.92 390.50,430.50" fill="none" stroke="#FF6A00" stroke-width="1.50" stroke-linejoin="miter" stroke-miterlimit="3" stroke-linecap="round"/>
<text x="604.00" y="413.00" font-size="10.00" text-anchor="middle" fill="#000" font-weight="bold" >10 mM</text>
<text x="604.50" y="463.30" font-size="10.00" text-anchor="middle" fill="#000" font-weight="bold" >0 mM</text>
<line x1="605.00" y1="452.00" x2="605.00" y2="427.00" stroke="#000" stroke-width="1.20"/>
<path d="M605,421.4 L602.4,428.4 L607.6,428.4 Z" fill="#000"/>
<rect x="394.10" y="268.30" width="121.00" height="74.80" fill="none" stroke="#000" stroke-width="1.30"/>
<line x1="394.90" y1="343.10" x2="394.90" y2="345.10" stroke="#000" stroke-width="1.20"/>
<line x1="416.80" y1="343.10" x2="416.80" y2="345.10" stroke="#000" stroke-width="1.20"/>
<line x1="438.70" y1="343.10" x2="438.70" y2="345.10" stroke="#000" stroke-width="1.20"/>
<line x1="460.60" y1="343.10" x2="460.60" y2="345.10" stroke="#000" stroke-width="1.20"/>
<line x1="482.50" y1="343.10" x2="482.50" y2="345.10" stroke="#000" stroke-width="1.20"/>
<line x1="504.40" y1="343.10" x2="504.40" y2="345.10" stroke="#000" stroke-width="1.20"/>
<line x1="405.85" y1="343.10" x2="405.85" y2="344.30" stroke="#000" stroke-width="1.00"/>
<line x1="427.75" y1="343.10" x2="427.75" y2="344.30" stroke="#000" stroke-width="1.00"/>
<line x1="449.65" y1="343.10" x2="449.65" y2="344.30" stroke="#000" stroke-width="1.00"/>
<line x1="471.55" y1="343.10" x2="471.55" y2="344.30" stroke="#000" stroke-width="1.00"/>
<line x1="493.45" y1="343.10" x2="493.45" y2="344.30" stroke="#000" stroke-width="1.00"/>
<line x1="392.10" y1="337.20" x2="394.10" y2="337.20" stroke="#000" stroke-width="1.20"/>
<line x1="392.10" y1="324.64" x2="394.10" y2="324.64" stroke="#000" stroke-width="1.20"/>
<line x1="392.10" y1="312.08" x2="394.10" y2="312.08" stroke="#000" stroke-width="1.20"/>
<line x1="392.10" y1="299.52" x2="394.10" y2="299.52" stroke="#000" stroke-width="1.20"/>
<line x1="392.10" y1="286.96" x2="394.10" y2="286.96" stroke="#000" stroke-width="1.20"/>
<line x1="392.10" y1="274.40" x2="394.10" y2="274.40" stroke="#000" stroke-width="1.20"/>
<line x1="392.90" y1="330.92" x2="394.10" y2="330.92" stroke="#000" stroke-width="1.00"/>
<line x1="392.90" y1="318.36" x2="394.10" y2="318.36" stroke="#000" stroke-width="1.00"/>
<line x1="392.90" y1="305.80" x2="394.10" y2="305.80" stroke="#000" stroke-width="1.00"/>
<line x1="392.90" y1="293.24" x2="394.10" y2="293.24" stroke="#000" stroke-width="1.00"/>
<line x1="392.90" y1="280.68" x2="394.10" y2="280.68" stroke="#000" stroke-width="1.00"/>
<text x="394.90" y="350.90" font-size="5.40" text-anchor="middle" fill="#000" font-weight="bold" >0</text>
<text x="416.80" y="350.90" font-size="5.40" text-anchor="middle" fill="#000" font-weight="bold" >2</text>
<text x="438.70" y="350.90" font-size="5.40" text-anchor="middle" fill="#000" font-weight="bold" >4</text>
<text x="460.60" y="350.90" font-size="5.40" text-anchor="middle" fill="#000" font-weight="bold" >6</text>
<text x="482.50" y="350.90" font-size="5.40" text-anchor="middle" fill="#000" font-weight="bold" >8</text>
<text x="504.40" y="350.90" font-size="5.40" text-anchor="middle" fill="#000" font-weight="bold" >10</text>
<text x="391.50" y="339.04" font-size="5.40" text-anchor="end" fill="#000" font-weight="bold" >100</text>
<text x="391.50" y="326.48" font-size="5.40" text-anchor="end" fill="#000" font-weight="bold" >200</text>
<text x="391.50" y="313.92" font-size="5.40" text-anchor="end" fill="#000" font-weight="bold" >300</text>
<text x="391.50" y="301.36" font-size="5.40" text-anchor="end" fill="#000" font-weight="bold" >400</text>
<text x="391.50" y="288.80" font-size="5.40" text-anchor="end" fill="#000" font-weight="bold" >500</text>
<text x="391.50" y="276.24" font-size="5.40" text-anchor="end" fill="#000" font-weight="bold" >600</text>
<text x="452.90" y="360.80" font-size="9.80" text-anchor="middle" fill="#000" font-weight="bold" >Concentration (mM)</text>
<text x="0" y="0" font-size="9.6" font-weight="bold" text-anchor="middle" transform="translate(378.9,305.2) rotate(-90)">Current (&#956;A)</text>
<text x="409.50" y="287.50" font-size="7.50" text-anchor="start" fill="#000" font-weight="bold" >R<tspan font-size="5" dy="-3.5">2</tspan><tspan dy="3.5">=0.9999</tspan></text>
<line x1="405.85" y1="332.80" x2="504.40" y2="277.16" stroke="#F03C3C" stroke-width="1.30"/>
<rect x="404.15" y="331.10" width="3.4" height="3.4" fill="#111"/>
<rect x="415.10" y="324.82" width="3.4" height="3.4" fill="#111"/>
<rect x="426.05" y="318.29" width="3.4" height="3.4" fill="#111"/>
<rect x="437.00" y="311.76" width="3.4" height="3.4" fill="#111"/>
<rect x="447.95" y="305.73" width="3.4" height="3.4" fill="#111"/>
<rect x="458.90" y="299.96" width="3.4" height="3.4" fill="#111"/>
<rect x="469.85" y="293.68" width="3.4" height="3.4" fill="#111"/>
<rect x="480.80" y="286.89" width="3.4" height="3.4" fill="#111"/>
<rect x="491.75" y="281.49" width="3.4" height="3.4" fill="#111"/>
<rect x="502.70" y="275.46" width="3.4" height="3.4" fill="#111"/>
<defs>
<linearGradient id="bgE" x1="0" y1="0" x2="1" y2="1">
<stop offset="0" stop-color="#B4C5F3"/><stop offset="0.5" stop-color="#CFDBF7"/><stop offset="1" stop-color="#E3E9FB"/>
</linearGradient>
</defs>
<rect x="1.3" y="530.8" width="634.3" height="235.5" fill="url(#bgE)"/>
<text x="16.00" y="549.00" font-size="21.00" text-anchor="middle" fill="#000" font-weight="bold" stroke="#000" stroke-width="0.35">(e)</text>
<defs>
<filter id="blur2" x="-50%" y="-50%" width="200%" height="200%"><feGaussianBlur stdDeviation="2"/></filter>
<filter id="blur1" x="-50%" y="-50%" width="200%" height="200%"><feGaussianBlur stdDeviation="0.8"/></filter>
<filter id="blur3" x="-50%" y="-50%" width="200%" height="200%"><feGaussianBlur stdDeviation="3"/></filter>
<linearGradient id="rodG" x1="0" x2="1"><stop offset="0" stop-color="#8a8a8a"/><stop offset="0.5" stop-color="#a4a4a4"/><stop offset="1" stop-color="#8c8c8c"/></linearGradient>
<linearGradient id="gceSide" x1="0" x2="1"><stop offset="0" stop-color="#7e7e7e"/><stop offset="0.5" stop-color="#9a9a9a"/><stop offset="1" stop-color="#858585"/></linearGradient>
<linearGradient id="liq" x1="0" y1="0" x2="0" y2="1"><stop offset="0" stop-color="#a6dbea"/><stop offset="1" stop-color="#b8e4f0"/></linearGradient>
<linearGradient id="arrG" x1="0" y1="0" x2="1" y2="0"><stop offset="0" stop-color="#b9cbea"/><stop offset="1" stop-color="#5d83c4"/></linearGradient>
<radialGradient id="auG" cx="0.4" cy="0.35" r="0.7"><stop offset="0" stop-color="#ffd84a"/><stop offset="1" stop-color="#e09a00"/></radialGradient>
<radialGradient id="dotG" cx="0.45" cy="0.4" r="0.65"><stop offset="0" stop-color="#c8a82a"/><stop offset="1" stop-color="#ae9016"/></radialGradient>
</defs>
<polygon points="9.1,574.3 62.5,574.3 69.9,565.7 16.5,565.7" fill="#b893dc"/>
<polygon points="62.5,574.3 69.9,565.7 69.9,591.1 62.5,599" fill="#9f7ec8"/>
<rect x="9.1" y="574.3" width="53.4" height="24.7" fill="#ad86d6"/>
<circle cx="36.1" cy="587.3" r="7.5" fill="none" stroke="#472a5c" stroke-width="0.95"/>
<path d="M29,588 C30.5,583.5 33,582.2 36,582.2 C39.5,582.2 42,584 43.4,588.5" fill="none" stroke="#472a5c" stroke-width="0.85"/><line x1="36.1" y1="583.5" x2="36.3" y2="594.5" stroke="#5a3a70" stroke-width="0.7"/>
<path d="M43.8,565 C45,560 55,556.5 65.1,556.5 C70,556.3 78,556.5 84,557.8 C90,559 93,562 95.3,566.8 C98,570 104,571.5 109,572.5 L117,574.3" fill="none" stroke="#5d94d4" stroke-width="1.2"/>
<path d="M44.5,565 C46,560 56,556.6 66,556.4 C74,556.2 85,557 92,558.6 C99,560.5 101.5,562 104,565 C107,568 110,569.8 117,571.2 L139,573.6" fill="none" stroke="#ee4450" stroke-width="1.2"/>
<path d="M45.2,565 C47,560 57,556.4 67,556.2 C78,556 92,556.6 100,558 C108,559.5 112,561 116,564.3 C120,566.8 128,567.5 140,568.3 L161,569.5" fill="none" stroke="#7caa62" stroke-width="1.2"/>
<rect x="115.1" y="575.1" width="4.8" height="26.9" fill="url(#rodG)"/>
<line x1="117.5" y1="564.4" x2="117.5" y2="575.6" stroke="#e2a812" stroke-width="1.3"/>
<rect x="137.1" y="580.2" width="4.8" height="21.8" fill="url(#rodG)"/>
<line x1="139.5" y1="568.8" x2="139.5" y2="580.7" stroke="#e2a812" stroke-width="1.3"/>
<rect x="158.0" y="572.0" width="4.8" height="30.0" fill="url(#rodG)"/>
<line x1="160.4" y1="561.6" x2="160.4" y2="572.5" stroke="#e2a812" stroke-width="1.3"/>
<text x="0" y="0" font-size="9" font-weight="bold" text-anchor="middle" transform="translate(112.6,590.8) rotate(-90)">RE</text>
<text x="0" y="0" font-size="9" font-weight="bold" text-anchor="middle" transform="translate(136.5,590.8) rotate(-90)">CE</text>
<text x="0" y="0" font-size="9" font-weight="bold" text-anchor="middle" transform="translate(157.8,589.3) rotate(-90)">WE</text>
<path d="M99.2,613 L99.2,664 Q139.3,676 179.6,664 L179.6,613 Z" fill="#efebf0" opacity="0.95"/>
<path d="M99.5,616 Q139.3,620 179.3,616" fill="none" stroke="#d6cdd0" stroke-width="2"/>
<path d="M99.4,640.5 Q139.3,638.5 179.4,640.5 L179.4,664 Q139.3,676 99.4,664 Z" fill="url(#liq)"/>
<ellipse cx="139.3" cy="664" rx="30" ry="4" fill="#90c8dc" opacity="0.6"/>
<rect x="115.0" y="614" width="4.8" height="43.1" fill="#8f8f8f" opacity="0.95"/>
<rect x="137.0" y="614" width="4.6" height="35" fill="#8f8f8f" opacity="0.95"/>
<rect x="131.0" y="648" width="17.4" height="17.3" fill="#c9c9c9"/>
<rect x="158.3" y="614" width="4.5" height="43.1" fill="#8f8f8f" opacity="0.95"/>
<ellipse cx="161" cy="656.4" rx="4.6" ry="3.6" fill="none" stroke="#e02a2a" stroke-width="1"/>
<rect x="99" y="603.2" width="80.7" height="11" fill="#eef3f7"/>
<rect x="99.2" y="603.2" width="2.2" height="11" fill="#2d6c80"/>
<rect x="106.3" y="603.2" width="6.4" height="11" fill="#3a9ab4"/>
<rect x="121.8" y="603.2" width="3.6" height="11" fill="#c9d9e8"/>
<rect x="125.4" y="603.2" width="12.0" height="11" fill="#3c91a9"/>
<rect x="137.4" y="603.2" width="14.1" height="11" fill="#2f8098"/>
<rect x="151.5" y="603.2" width="2.8" height="11" fill="#c2d0d8"/>
<rect x="160.0" y="603.2" width="4.2" height="11" fill="#183c48"/>
<rect x="164.2" y="603.2" width="7.8" height="11" fill="#1f4b5a"/>
<rect x="178.3" y="603.2" width="1.4" height="11" fill="#2d5060"/>
<path d="M99,604.5 L99,603 Q99,600.8 102,600.8 L176.7,600.8 Q179.7,600.8 179.7,603 L179.7,604.5 Z" fill="#545a62"/>
<path d="M168.6,655.2 L198.9,643.1 L198.4,640.1 L205.8,644.4 L199.3,654.8 L198.9,650 Z" fill="#5b7cc2"/>
<ellipse cx="251.4" cy="557.5" rx="34.1" ry="21.2" fill="#bdbac4"/>
<path d="M206.6,625 L206.6,644 Q253.2,652 299.8,644 L299.8,625 Z" fill="url(#gceSide)"/>
<ellipse cx="253.2" cy="625" rx="46.6" ry="11.2" fill="#545454" stroke="#222" stroke-width="0.9"/>
<path d="M218.0,627.5 q4,-1.5 8,0 t8,0 t8,0 t8.0,0" fill="none" stroke="#6caa3c" stroke-width="1.6"/>
<path d="M222.0,621.5 q4,-1.5 8,0 t8,0 t8,0 t2.0,0" fill="none" stroke="#6caa3c" stroke-width="1.6"/>
<path d="M226.0,631.5 q4,-1.5 8,0 t8,0 t8,0 t12.0,0" fill="none" stroke="#6caa3c" stroke-width="1.6"/>
<path d="M258.0,620.5 q4,-1.5 8,0 t8,0 t8,0 t2.0,0" fill="none" stroke="#6caa3c" stroke-width="1.6"/>
<path d="M262.0,626.5 q4,-1.5 8,0 t8,0 t8,0 t6.0,0" fill="none" stroke="#6caa3c" stroke-width="1.6"/>
<path d="M247.0,633.5 q4,-1.5 8,0 t8,0 t8,0 t4.0,0" fill="none" stroke="#6caa3c" stroke-width="1.6"/>
<path d="M235.0,618.5 q4,-1.5 8,0 t8,0 t8,0 t-7.0,0" fill="none" stroke="#6caa3c" stroke-width="1.6"/>
<path d="M270.0,631.0 q4,-1.5 8,0 t8,0 t8,0 t2.0,0" fill="none" stroke="#6caa3c" stroke-width="1.6"/>
<polygon points="236.9,579.7 266.7,579.7 260.4,620.5 243.2,620.5" fill="#f2ec6a" opacity="0.85"/>
<ellipse cx="251.5" cy="621.6" rx="7.8" ry="2.7" fill="#8a8a5a" stroke="#f0ee20" stroke-width="1"/>
<text x="253.6" y="647.2" font-size="12.5" font-weight="bold" text-anchor="middle">GCE</text>
<path d="M239.20,543.00 C241.27,542.47 243.52,540.99 245.40,541.40 C247.32,541.82 248.75,544.74 250.60,545.60 C252.24,546.36 254.17,546.64 255.80,546.60 C257.25,546.56 258.53,545.93 259.90,545.60" fill="none" stroke="#8a8898" stroke-width="3.4" stroke-linecap="round" opacity="0.55" filter="url(#blur1)"/>
<path d="M235.10,549.20 C236.30,549.73 237.43,550.86 238.70,550.80 C240.18,550.74 241.75,548.46 243.40,548.20 C245.02,547.95 246.93,548.59 248.50,549.20 C250.03,549.80 251.28,551.67 252.70,551.80 C254.04,551.92 255.41,550.63 256.80,550.20 C258.18,549.77 259.52,549.52 261.00,549.20 C262.64,548.85 264.61,548.75 266.20,548.20 C267.69,547.69 268.80,546.46 270.30,546.10 C271.89,545.72 273.77,546.10 275.50,546.10" fill="none" stroke="#8a8898" stroke-width="3.4" stroke-linecap="round" opacity="0.55" filter="url(#blur1)"/>
<path d="M229.90,557.00 C231.27,556.13 232.41,554.86 234.00,554.40 C235.81,553.87 238.24,554.74 240.30,554.40 C242.40,554.05 244.52,552.43 246.50,552.30 C248.27,552.18 249.91,553.45 251.60,553.30 C253.35,553.15 254.95,551.64 256.80,551.30 C258.77,550.93 261.18,550.76 263.10,551.30 C264.97,551.82 266.43,554.10 268.20,554.40 C269.87,554.68 271.75,553.47 273.40,553.30 C274.87,553.15 276.20,553.30 277.60,553.30" fill="none" stroke="#8a8898" stroke-width="3.4" stroke-linecap="round" opacity="0.55" filter="url(#blur1)"/>
<path d="M228.90,565.30 C230.27,564.43 231.42,563.02 233.00,562.70 C234.79,562.33 237.15,563.87 239.20,563.70 C241.29,563.53 243.31,562.12 245.40,561.60 C247.45,561.09 249.63,560.95 251.60,560.60 C253.41,560.28 254.98,559.86 256.80,559.60 C258.79,559.31 261.01,558.92 263.10,559.00 C265.18,559.08 267.23,559.75 269.30,560.10 C271.37,560.45 273.43,560.93 275.50,561.10 C277.56,561.27 279.63,561.10 281.70,561.10" fill="none" stroke="#8a8898" stroke-width="3.4" stroke-linecap="round" opacity="0.55" filter="url(#blur1)"/>
<path d="M235.10,572.00 C236.83,570.97 238.41,569.42 240.30,568.90 C242.21,568.37 244.44,569.07 246.50,568.90 C248.57,568.73 250.73,567.87 252.70,567.90 C254.51,567.93 256.04,568.45 257.90,568.90 C260.12,569.44 263.25,571.29 265.10,571.00 C266.41,570.79 267.17,569.60 268.20,568.90" fill="none" stroke="#8a8898" stroke-width="3.4" stroke-linecap="round" opacity="0.55" filter="url(#blur1)"/>
<path d="M248.50,555.40 C248.87,558.17 248.77,561.33 249.60,563.70 C250.30,565.72 251.62,567.30 252.70,568.90 C253.69,570.38 254.77,571.63 255.80,573.00" fill="none" stroke="#8a8898" stroke-width="3.4" stroke-linecap="round" opacity="0.55" filter="url(#blur1)"/>
<path d="M263.10,553.30 C262.40,555.73 260.95,558.27 261.00,560.60 C261.05,562.76 262.07,564.90 263.10,566.80 C264.13,568.71 265.83,570.27 267.20,572.00" fill="none" stroke="#8a8898" stroke-width="3.4" stroke-linecap="round" opacity="0.55" filter="url(#blur1)"/>
<path d="M254.80,556.40 C255.83,558.53 257.78,560.68 257.90,562.80 C258.01,564.81 256.50,566.80 255.80,568.80" fill="none" stroke="#8a8898" stroke-width="3.4" stroke-linecap="round" opacity="0.55" filter="url(#blur1)"/>
<path d="M237.60,541.20 C239.67,540.67 241.92,539.19 243.80,539.60 C245.72,540.02 247.15,542.94 249.00,543.80 C250.64,544.56 252.57,544.84 254.20,544.80 C255.65,544.76 256.93,544.13 258.30,543.80" fill="none" stroke="#96dc34" stroke-width="3.4" stroke-linecap="round"/>
<path d="M233.50,547.40 C234.70,547.93 235.83,549.06 237.10,549.00 C238.58,548.94 240.15,546.66 241.80,546.40 C243.42,546.15 245.33,546.79 246.90,547.40 C248.43,548.00 249.68,549.87 251.10,550.00 C252.44,550.12 253.81,548.83 255.20,548.40 C256.58,547.97 257.92,547.72 259.40,547.40 C261.04,547.05 263.01,546.95 264.60,546.40 C266.09,545.89 267.20,544.66 268.70,544.30 C270.29,543.92 272.17,544.30 273.90,544.30" fill="none" stroke="#96dc34" stroke-width="3.4" stroke-linecap="round"/>
<path d="M228.30,555.20 C229.67,554.33 230.81,553.06 232.40,552.60 C234.21,552.07 236.64,552.94 238.70,552.60 C240.80,552.25 242.92,550.63 244.90,550.50 C246.67,550.38 248.31,551.65 250.00,551.50 C251.75,551.35 253.35,549.84 255.20,549.50 C257.17,549.13 259.58,548.96 261.50,549.50 C263.37,550.02 264.83,552.30 266.60,552.60 C268.27,552.88 270.15,551.67 271.80,551.50 C273.27,551.35 274.60,551.50 276.00,551.50" fill="none" stroke="#96dc34" stroke-width="3.4" stroke-linecap="round"/>
<path d="M227.30,563.50 C228.67,562.63 229.82,561.22 231.40,560.90 C233.19,560.53 235.55,562.07 237.60,561.90 C239.69,561.73 241.71,560.32 243.80,559.80 C245.85,559.29 248.03,559.15 250.00,558.80 C251.81,558.48 253.38,558.06 255.20,557.80 C257.19,557.51 259.41,557.12 261.50,557.20 C263.58,557.28 265.63,557.95 267.70,558.30 C269.77,558.65 271.83,559.13 273.90,559.30 C275.96,559.47 278.03,559.30 280.10,559.30" fill="none" stroke="#96dc34" stroke-width="3.4" stroke-linecap="round"/>
<path d="M233.50,570.20 C235.23,569.17 236.81,567.62 238.70,567.10 C240.61,566.57 242.84,567.27 244.90,567.10 C246.97,566.93 249.13,566.07 251.10,566.10 C252.91,566.13 254.44,566.65 256.30,567.10 C258.52,567.64 261.65,569.49 263.50,569.20 C264.81,568.99 265.57,567.80 266.60,567.10" fill="none" stroke="#96dc34" stroke-width="3.4" stroke-linecap="round"/>
<path d="M246.90,553.60 C247.27,556.37 247.17,559.53 248.00,561.90 C248.70,563.92 250.02,565.50 251.10,567.10 C252.09,568.58 253.17,569.83 254.20,571.20" fill="none" stroke="#96dc34" stroke-width="3.4" stroke-linecap="round"/>
<path d="M261.50,551.50 C260.80,553.93 259.35,556.47 259.40,558.80 C259.45,560.96 260.47,563.10 261.50,565.00 C262.53,566.91 264.23,568.47 265.60,570.20" fill="none" stroke="#96dc34" stroke-width="3.4" stroke-linecap="round"/>
<path d="M253.20,554.60 C254.23,556.73 256.18,558.88 256.30,561.00 C256.41,563.01 254.90,565.00 254.20,567.00" fill="none" stroke="#96dc34" stroke-width="3.4" stroke-linecap="round"/>
<path d="M237.60,541.20 C239.67,540.67 241.92,539.19 243.80,539.60 C245.72,540.02 247.15,542.94 249.00,543.80 C250.64,544.56 252.57,544.84 254.20,544.80 C255.65,544.76 256.93,544.13 258.30,543.80" fill="none" stroke="#c0f458" stroke-width="1.8" stroke-linecap="round"/>
<path d="M233.50,547.40 C234.70,547.93 235.83,549.06 237.10,549.00 C238.58,548.94 240.15,546.66 241.80,546.40 C243.42,546.15 245.33,546.79 246.90,547.40 C248.43,548.00 249.68,549.87 251.10,550.00 C252.44,550.12 253.81,548.83 255.20,548.40 C256.58,547.97 257.92,547.72 259.40,547.40 C261.04,547.05 263.01,546.95 264.60,546.40 C266.09,545.89 267.20,544.66 268.70,544.30 C270.29,543.92 272.17,544.30 273.90,544.30" fill="none" stroke="#c0f458" stroke-width="1.8" stroke-linecap="round"/>
<path d="M228.30,555.20 C229.67,554.33 230.81,553.06 232.40,552.60 C234.21,552.07 236.64,552.94 238.70,552.60 C240.80,552.25 242.92,550.63 244.90,550.50 C246.67,550.38 248.31,551.65 250.00,551.50 C251.75,551.35 253.35,549.84 255.20,549.50 C257.17,549.13 259.58,548.96 261.50,549.50 C263.37,550.02 264.83,552.30 266.60,552.60 C268.27,552.88 270.15,551.67 271.80,551.50 C273.27,551.35 274.60,551.50 276.00,551.50" fill="none" stroke="#c0f458" stroke-width="1.8" stroke-linecap="round"/>
<path d="M227.30,563.50 C228.67,562.63 229.82,561.22 231.40,560.90 C233.19,560.53 235.55,562.07 237.60,561.90 C239.69,561.73 241.71,560.32 243.80,559.80 C245.85,559.29 248.03,559.15 250.00,558.80 C251.81,558.48 253.38,558.06 255.20,557.80 C257.19,557.51 259.41,557.12 261.50,557.20 C263.58,557.28 265.63,557.95 267.70,558.30 C269.77,558.65 271.83,559.13 273.90,559.30 C275.96,559.47 278.03,559.30 280.10,559.30" fill="none" stroke="#c0f458" stroke-width="1.8" stroke-linecap="round"/>
<path d="M233.50,570.20 C235.23,569.17 236.81,567.62 238.70,567.10 C240.61,566.57 242.84,567.27 244.90,567.10 C246.97,566.93 249.13,566.07 251.10,566.10 C252.91,566.13 254.44,566.65 256.30,567.10 C258.52,567.64 261.65,569.49 263.50,569.20 C264.81,568.99 265.57,567.80 266.60,567.10" fill="none" stroke="#c0f458" stroke-width="1.8" stroke-linecap="round"/>
<path d="M246.90,553.60 C247.27,556.37 247.17,559.53 248.00,561.90 C248.70,563.92 250.02,565.50 251.10,567.10 C252.09,568.58 253.17,569.83 254.20,571.20" fill="none" stroke="#c0f458" stroke-width="1.8" stroke-linecap="round"/>
<path d="M261.50,551.50 C260.80,553.93 259.35,556.47 259.40,558.80 C259.45,560.96 260.47,563.10 261.50,565.00 C262.53,566.91 264.23,568.47 265.60,570.20" fill="none" stroke="#c0f458" stroke-width="1.8" stroke-linecap="round"/>
<path d="M253.20,554.60 C254.23,556.73 256.18,558.88 256.30,561.00 C256.41,563.01 254.90,565.00 254.20,567.00" fill="none" stroke="#c0f458" stroke-width="1.8" stroke-linecap="round"/>
<circle cx="244.4" cy="540.1" r="1.6" fill="#b89a28"/>
<circle cx="254.2" cy="544.8" r="1.6" fill="#b89a28"/>
<circle cx="237.1" cy="549.0" r="1.6" fill="#b89a28"/>
<circle cx="232.4" cy="552.1" r="1.6" fill="#b89a28"/>
<circle cx="243.8" cy="551.5" r="1.6" fill="#b89a28"/>
<circle cx="259.4" cy="549.5" r="1.6" fill="#b89a28"/>
<circle cx="264.6" cy="549.5" r="1.6" fill="#b89a28"/>
<circle cx="269.7" cy="544.3" r="1.6" fill="#b89a28"/>
<circle cx="270.8" cy="552.1" r="1.6" fill="#b89a28"/>
<circle cx="231.4" cy="560.9" r="1.6" fill="#b89a28"/>
<circle cx="238.1" cy="561.9" r="1.6" fill="#b89a28"/>
<circle cx="243.3" cy="560.4" r="1.6" fill="#b89a28"/>
<circle cx="246.9" cy="564.0" r="1.6" fill="#b89a28"/>
<circle cx="250.0" cy="566.6" r="1.6" fill="#b89a28"/>
<circle cx="256.3" cy="558.3" r="1.6" fill="#b89a28"/>
<circle cx="261.5" cy="557.8" r="1.6" fill="#b89a28"/>
<circle cx="276.0" cy="558.8" r="1.6" fill="#b89a28"/>
<circle cx="265.6" cy="564.0" r="1.6" fill="#b89a28"/>
<circle cx="238.1" cy="567.1" r="1.6" fill="#b89a28"/>
<circle cx="254.2" cy="571.2" r="1.6" fill="#b89a28"/>
<circle cx="263.5" cy="570.2" r="1.6" fill="#b89a28"/>
<circle cx="258.3" cy="565.5" r="1.6" fill="#b89a28"/>
<path d="M312.27,590.53 L312.99,590.24 L313.76,589.91 L314.54,589.56 L315.32,589.20 L315.97,588.74 L316.40,588.15 L316.80,587.56 L317.17,586.97 L317.52,586.39 L317.85,585.82 L318.15,585.26 L318.43,584.72 L318.69,584.21 L318.92,583.73 L319.14,583.28 L319.33,582.88 L319.50,582.52 L319.65,582.20 L319.77,581.94 L319.86,581.72 L319.92,581.54 L319.88,581.41 L319.95,581.22 L320.08,581.05 L320.37,580.92 L320.82,580.85 L321.38,580.85 L322.02,580.91 L322.72,581.01 L323.37,581.30 L323.89,581.88 L324.45,582.45 L325.08,582.99 L325.80,583.50 L326.63,583.93 L327.52,584.24 L328.34,584.43 L329.12,584.57 L329.90,584.67 L330.68,584.71 L331.45,584.72 L332.22,584.69 L332.98,584.62 L333.72,584.52 L334.44,584.40 L335.15,584.24 L335.83,584.07 L336.48,583.88 L337.10,583.68 L337.69,583.47 L338.35,583.21 L339.18,582.83 L340.00,582.34 L340.72,581.83 L341.35,581.30 L341.91,580.78 L342.40,580.29 L342.82,579.83 L343.17,579.43 L343.44,579.10 L343.61,578.86 L343.65,578.69 L343.54,578.56 L343.32,578.38 L343.21,578.17 L343.31,578.05 L343.61,578.13 L344.02,578.38 L344.49,578.77 L345.00,579.26 L345.40,579.87 L345.48,580.67 L345.60,581.48 L345.78,582.32 L346.06,583.17 L346.43,583.95 L346.78,584.63 L347.11,585.28 L347.49,585.97 L347.92,586.67 L348.41,587.36 L348.98,588.05 L349.63,588.71 L350.40,589.32 L351.33,589.87 L352.45,590.30 L353.77,590.50 L355.10,590.41 L356.27,590.10 L357.27,589.66 L358.15,589.14 L358.92,588.56 L359.61,587.94 L360.22,587.30 L360.77,586.65 L361.26,585.99 L361.70,585.34 L362.14,584.64 L362.58,583.89 L362.94,583.06 L363.20,582.24 L363.39,581.43 L363.52,580.63 L363.60,579.85 L363.66,579.08 L363.71,578.33 L363.74,577.62 L363.78,576.95 L363.84,576.33 L363.99,575.82 L364.39,575.57 L364.72,575.46 L364.92,575.49 L364.95,575.63 L365.06,575.79 L365.21,575.98 L365.43,576.22 L365.72,576.52 L366.06,576.89 L366.44,577.32 L366.85,577.78 L367.27,578.26 L367.71,578.75 L368.15,579.23 L368.58,579.68 L368.97,580.08 L369.37,580.49 L369.78,580.90 L370.18,581.31 L370.56,581.70 L370.93,582.07 L371.26,582.41 L371.54,582.70 L371.76,582.93 L371.92,583.08 L372.01,583.12 L372.07,582.99 L372.17,582.96 L372.28,583.06 L372.36,583.34 L372.38,583.77 L372.35,584.30 L372.26,584.90 L372.13,585.54 L371.98,586.20 L371.84,586.83 L371.71,587.40 L371.54,587.96 L371.32,588.56 L371.05,589.16 L370.58,589.58 L369.95,589.84 L369.31,590.08 L368.67,590.32 L368.06,590.54 L367.47,590.74 L366.89,590.91 L366.30,591.08 L365.80,591.41 L365.34,591.86 L364.89,592.36 L364.45,592.90 L364.03,593.48 L366.17,596.72 L366.83,596.59 L367.47,596.44 L368.11,596.25 L368.75,596.01 L369.33,595.64 L369.82,595.08 L370.29,594.48 L370.74,593.86 L371.12,593.27 L371.49,592.66 L371.87,592.03 L372.24,591.39 L372.75,590.89 L373.42,590.53 L374.09,590.13 L374.75,589.67 L375.36,589.17 L375.94,588.67 L376.52,588.14 L377.11,587.54 L377.68,586.86 L378.22,586.10 L378.70,585.22 L379.09,584.21 L379.32,583.05 L379.33,581.81 L379.12,580.67 L378.78,579.68 L378.35,578.80 L377.87,578.00 L377.33,577.26 L376.75,576.59 L376.15,575.98 L375.52,575.42 L374.88,574.92 L374.24,574.47 L373.62,574.07 L373.02,573.72 L372.39,573.40 L371.71,573.07 L370.96,572.74 L370.17,572.43 L369.33,572.15 L368.46,571.92 L367.57,571.74 L366.65,571.65 L365.71,571.66 L364.76,571.81 L363.85,572.17 L363.11,572.68 L362.60,573.29 L362.27,573.94 L362.04,574.61 L361.60,575.15 L361.09,575.69 L360.58,576.26 L360.07,576.85 L359.58,577.44 L359.10,578.02 L358.64,578.56 L358.20,579.06 L357.79,579.48 L357.43,579.81 L357.13,580.01 L356.86,580.16 L356.37,580.50 L355.84,580.91 L355.32,581.30 L354.84,581.67 L354.40,582.00 L354.01,582.28 L353.70,582.49 L353.50,582.62 L353.43,582.67 L353.54,582.68 L353.83,582.70 L354.11,582.78 L354.19,582.87 L354.05,582.89 L353.76,582.83 L353.35,582.67 L352.86,582.45 L352.32,582.17 L351.74,581.84 L351.13,581.50 L350.52,581.14 L349.97,580.85 L349.54,580.65 L349.09,580.36 L348.59,579.95 L348.07,579.45 L347.54,578.90 L347.33,578.18 L347.23,577.39 L347.06,576.59 L346.80,575.80 L346.37,575.00 L345.68,574.23 L344.68,573.62 L343.56,573.33 L342.51,573.30 L341.56,573.43 L340.69,573.65 L339.90,573.92 L339.15,574.21 L338.45,574.52 L337.79,574.81 L337.19,575.09 L336.65,575.34 L336.18,575.54 L335.81,575.67 L335.45,575.79 L334.97,575.95 L334.39,576.16 L333.82,576.38 L333.26,576.62 L332.71,576.86 L332.17,577.11 L331.64,577.37 L331.12,577.62 L330.61,577.87 L330.12,578.12 L329.64,578.35 L329.17,578.58 L328.71,578.79 L328.26,578.98 L327.88,579.16 L327.52,579.31 L327.10,579.42 L326.56,579.45 L325.94,579.42 L325.25,579.34 L324.53,579.22 L323.94,578.82 L323.41,578.25 L322.84,577.70 L322.20,577.19 L321.46,576.73 L320.59,576.38 L319.57,576.18 L318.52,576.19 L317.62,576.37 L316.84,576.63 L316.11,576.96 L315.42,577.35 L314.78,577.78 L314.17,578.25 L313.59,578.76 L313.04,579.28 L312.52,579.84 L312.03,580.41 L311.57,580.99 L311.13,581.59 L310.73,582.20 L310.35,582.81 L309.99,583.42 L309.67,584.02 L309.36,584.62 L309.27,585.32 L309.32,586.10 L309.35,586.84 L309.37,587.56 L309.33,588.27 Z" fill="#767aa6" opacity="0.5" filter="url(#blur2)"/>
<path d="M310.93,601.60 L311.62,601.41 L312.35,601.21 L313.11,601.02 L313.88,600.85 L314.58,600.62 L315.15,600.26 L315.69,599.91 L316.22,599.57 L316.72,599.24 L317.20,598.93 L317.66,598.64 L318.09,598.37 L318.48,598.14 L318.84,597.94 L319.17,597.77 L319.60,597.55 L320.02,597.35 L320.44,597.15 L320.86,596.96 L321.30,596.78 L321.74,596.59 L322.21,596.39 L322.69,596.20 L323.19,596.00 L323.70,595.79 L324.26,595.56 L324.79,595.33 L325.30,595.10 L325.79,594.89 L326.27,594.69 L326.73,594.50 L327.20,594.32 L327.68,594.16 L328.19,594.03 L328.67,593.92 L329.21,593.83 L329.78,593.76 L330.39,593.70 L331.01,593.66 L331.64,593.63 L332.28,593.63 L332.89,593.71 L333.37,594.11 L333.81,594.51 L334.20,594.91 L334.54,595.30 L334.91,595.77 L335.25,596.24 L335.55,596.71 L335.82,597.18 L336.06,597.65 L336.27,598.13 L336.47,598.63 L336.66,599.13 L336.83,599.65 L336.91,600.00 L336.99,600.39 L337.07,600.82 L337.16,601.30 L337.25,601.82 L337.35,602.38 L337.47,602.97 L337.59,603.58 L337.74,604.23 L337.90,604.89 L338.08,605.56 L338.29,606.25 L338.53,606.95 L338.79,607.61 L339.05,608.20 L339.31,608.77 L339.58,609.36 L339.86,609.96 L340.17,610.56 L340.48,611.17 L340.81,611.78 L341.16,612.39 L341.51,612.99 L341.88,613.58 L342.26,614.15 L342.65,614.71 L343.05,615.24 L343.45,615.73 L343.94,616.29 L344.42,616.82 L344.90,617.36 L345.41,617.88 L345.94,618.37 L346.37,618.95 L346.74,619.64 L347.19,620.32 L347.66,620.88 L348.18,621.40 L348.74,621.89 L349.33,622.36 L349.94,622.81 L350.57,623.22 L351.22,623.62 L351.87,623.99 L352.51,624.34 L353.15,624.67 L353.77,624.98 L354.39,625.27 L354.98,625.53 L355.61,625.78 L356.24,626.00 L356.89,626.21 L357.54,626.40 L358.19,626.56 L358.85,626.71 L359.51,626.83 L360.17,626.94 L360.82,627.02 L361.48,627.08 L362.12,627.13 L362.75,627.15 L363.37,627.16 L364.06,627.15 L364.74,627.13 L365.43,627.09 L366.13,627.03 L366.83,626.95 L367.55,626.85 L368.27,626.71 L369.00,626.55 L369.73,626.35 L370.47,626.11 L371.19,625.84 L371.82,625.57 L372.44,625.28 L373.07,624.97 L373.70,624.63 L374.32,624.28 L374.95,623.90 L375.56,623.51 L376.17,623.15 L376.90,623.11 L377.63,623.04 L378.35,622.94 L379.07,622.81 L379.79,622.63 L380.48,622.43 L381.15,622.20 L381.82,621.96 L382.49,621.68 L383.18,621.37 L383.86,621.02 L384.53,620.62 L385.19,620.17 L385.84,619.66 L386.46,619.10 L387.05,618.47 L387.60,617.76 L388.10,616.99 L388.52,616.15 L388.83,615.31 L389.06,614.49 L389.22,613.66 L389.32,612.84 L389.36,612.03 L389.35,611.22 L389.29,610.43 L389.19,609.64 L389.05,608.87 L388.88,608.12 L388.67,607.38 L388.44,606.66 L388.18,605.97 L387.91,605.30 L387.61,604.66 L387.30,604.04 L386.97,603.42 L386.60,602.80 L386.20,602.19 L385.78,601.59 L385.33,601.00 L384.86,600.44 L384.37,599.89 L383.86,599.36 L383.35,598.85 L382.82,598.37 L382.29,597.91 L381.76,597.49 L381.35,596.99 L381.08,596.40 L380.78,595.82 L380.43,595.25 L379.93,594.58 L379.35,593.96 L378.74,593.40 L378.13,592.91 L377.51,592.47 L376.86,592.25 L376.21,592.15 L375.59,592.10 L374.99,592.07 L374.36,592.04 L372.84,595.36 L373.36,595.85 L373.94,596.31 L374.51,596.70 L375.05,597.04 L375.58,597.28 L376.14,597.33 L376.67,597.39 L377.17,597.46 L377.66,597.57 L378.17,597.75 L378.58,597.93 L379.04,598.18 L379.51,598.47 L379.83,598.92 L380.01,599.49 L380.18,600.08 L380.33,600.68 L380.46,601.29 L380.59,601.90 L380.70,602.51 L380.79,603.12 L380.88,603.72 L380.95,604.31 L381.01,604.88 L381.06,605.43 L381.10,605.96 L381.13,606.51 L381.17,607.07 L381.21,607.65 L381.24,608.23 L381.27,608.80 L381.30,609.37 L381.32,609.92 L381.34,610.45 L381.36,610.97 L381.36,611.45 L381.36,611.90 L381.35,612.31 L381.33,612.68 L381.31,612.99 L381.29,613.26 L381.28,613.45 L381.24,613.70 L381.17,613.98 L381.07,614.29 L380.92,614.64 L380.73,615.02 L380.50,615.43 L380.23,615.86 L379.93,616.30 L379.61,616.76 L379.26,617.21 L378.88,617.67 L378.50,618.13 L378.12,618.57 L377.76,618.99 L377.37,619.40 L376.94,619.81 L376.47,620.22 L375.97,620.62 L375.45,621.02 L374.80,621.07 L374.14,621.06 L373.48,621.03 L372.83,620.99 L372.20,620.94 L371.58,620.89 L370.97,620.83 L370.41,620.76 L369.81,620.67 L369.24,620.57 L368.69,620.46 L368.15,620.34 L367.60,620.21 L367.04,620.08 L366.48,619.95 L365.90,619.81 L365.30,619.68 L364.67,619.56 L364.03,619.44 L363.48,619.34 L362.93,619.25 L362.38,619.17 L361.82,619.09 L361.25,619.01 L360.68,618.94 L360.11,618.88 L359.54,618.81 L358.98,618.76 L358.42,618.71 L357.86,618.66 L357.31,618.62 L356.77,618.57 L356.21,618.53 L355.56,618.47 L354.89,618.42 L354.23,618.38 L353.58,618.35 L352.94,618.32 L352.32,618.29 L351.72,618.25 L351.15,618.21 L350.60,618.15 L350.10,618.08 L349.63,617.99 L349.21,617.88 L348.70,617.68 L348.22,617.44 L347.91,617.02 L347.79,616.47 L347.68,615.89 L347.58,615.26 L347.47,614.58 L347.35,613.87 L347.28,613.35 L347.23,612.82 L347.18,612.27 L347.13,611.68 L347.08,611.08 L347.02,610.46 L346.96,609.82 L346.89,609.16 L346.82,608.50 L346.72,607.84 L346.62,607.16 L346.50,606.49 L346.36,605.82 L346.21,605.19 L346.07,604.62 L345.94,604.06 L345.80,603.47 L345.64,602.85 L345.46,602.21 L345.26,601.55 L345.04,600.88 L344.80,600.20 L344.52,599.51 L344.21,598.82 L343.87,598.13 L343.48,597.45 L343.05,596.78 L342.57,596.15 L341.98,595.49 L341.37,594.90 L340.73,594.35 L340.07,593.85 L339.39,593.40 L338.68,593.00 L337.96,592.65 L337.22,592.35 L336.46,592.10 L335.79,591.92 L335.10,591.78 L334.40,591.67 L333.70,591.59 L333.09,591.24 L332.49,590.83 L331.86,590.45 L331.23,590.10 L330.58,589.77 L329.93,589.47 L329.28,589.20 L328.61,588.97 L327.83,588.76 L327.03,588.61 L326.24,588.50 L325.47,588.45 L324.71,588.43 L323.97,588.44 L323.26,588.48 L322.57,588.54 L321.90,588.61 L321.26,588.70 L320.61,588.81 L319.95,588.94 L319.27,589.11 L318.58,589.32 L317.88,589.56 L317.17,589.85 L316.45,590.19 L315.74,590.59 L315.03,591.03 L314.42,591.47 L313.84,591.95 L313.30,592.44 L312.80,592.96 L312.32,593.49 L311.87,594.03 L311.44,594.59 L311.03,595.15 L310.65,595.72 L310.28,596.29 L310.05,596.99 L309.89,597.73 L309.71,598.45 L309.51,599.14 L309.27,599.80 Z" fill="#767aa6" opacity="0.5" filter="url(#blur2)"/>
<path d="M358.74,602.47 L359.29,601.91 L359.83,601.27 L360.34,600.64 L360.81,600.04 L361.14,599.46 L361.15,598.89 L361.13,598.38 L361.09,597.94 L361.04,597.57 L360.96,597.26 L360.87,597.02 L360.77,596.80 L360.79,596.40 L360.91,595.91 L361.10,595.36 L361.36,594.78 L361.68,594.21 L362.10,593.75 L362.71,593.87 L363.23,594.05 L363.62,594.28 L363.85,594.54 L363.98,594.80 L364.17,595.10 L364.40,595.45 L364.64,595.82 L364.89,596.21 L365.12,596.59 L365.34,596.95 L365.53,597.27 L365.68,597.53 L365.77,597.70 L365.81,597.76 L365.85,597.78 L365.96,597.94 L366.11,598.22 L366.28,598.59 L366.47,599.03 L366.68,599.52 L366.89,600.06 L367.10,600.63 L367.30,601.21 L367.48,601.79 L367.63,602.36 L367.75,602.90 L367.84,603.38 L367.71,603.82 L367.19,603.95 L366.64,604.04 L366.06,604.10 L365.44,604.16 L364.85,604.36 L364.31,604.74 L363.76,605.22 L363.24,605.79 L362.81,606.40 L365.19,609.60 L365.80,609.44 L366.38,609.28 L366.97,609.05 L367.57,608.73 L368.11,608.22 L368.57,607.53 L369.00,606.80 L369.37,606.03 L369.64,605.22 L370.16,604.62 L370.71,604.09 L371.23,603.51 L371.73,602.86 L372.19,602.15 L372.61,601.39 L372.97,600.59 L373.27,599.75 L373.49,598.88 L373.61,597.99 L373.64,597.08 L373.56,596.15 L373.35,595.21 L372.99,594.24 L372.46,593.32 L371.83,592.51 L371.13,591.82 L370.36,591.23 L369.54,590.74 L368.68,590.35 L367.79,590.06 L366.89,589.86 L365.98,589.76 L365.07,589.76 L364.15,589.86 L363.27,590.13 L362.48,590.54 L361.79,591.05 L361.19,591.63 L360.39,591.75 L359.53,591.86 L358.67,592.04 L357.83,592.32 L357.01,592.70 L356.23,593.20 L355.53,593.86 L354.94,594.59 L354.46,595.35 L354.07,596.11 L353.76,596.86 L353.51,597.59 L353.32,598.29 L353.47,598.99 L353.76,599.66 L354.07,600.30 L354.39,600.90 L354.66,601.53 Z" fill="#767aa6" opacity="0.5" filter="url(#blur2)"/>
<path d="M310.10,603.82 L310.94,603.70 L311.89,603.56 L312.87,603.45 L313.86,603.37 L314.57,603.11 L315.12,602.82 L315.53,602.58 L315.80,602.41 L315.88,602.33 L315.72,602.32 L315.33,602.30 L315.17,602.14 L315.23,601.94 L315.50,601.75 L315.93,601.61 L316.50,601.54 L317.17,601.53 L317.89,601.59 L318.63,601.73 L318.65,602.18 L318.57,602.71 L318.45,603.25 L318.32,603.82 L318.18,604.41 L318.05,605.03 L317.94,605.66 L317.87,606.31 L317.85,606.98 L317.90,607.66 L318.01,608.34 L318.39,608.98 L319.04,609.56 L319.72,610.12 L320.41,610.67 L321.07,611.16 L324.53,610.04 L324.79,609.30 L325.10,608.58 L325.43,607.84 L325.73,607.09 L325.76,606.38 L325.54,605.72 L325.24,605.06 L324.87,604.40 L324.44,603.75 L323.95,603.13 L323.41,602.54 L322.83,601.98 L322.22,601.47 L321.60,601.01 L320.96,600.62 L320.37,600.27 L320.16,599.36 L319.85,598.44 L319.40,597.55 L318.82,596.71 L318.07,595.96 L317.13,595.33 L316.00,594.88 L314.67,594.70 L313.29,594.89 L312.12,595.32 L311.19,595.88 L310.44,596.50 L309.83,597.18 L309.36,597.89 L309.04,598.68 L309.00,599.66 L308.96,600.58 L308.88,601.42 L308.70,602.18 Z" fill="#767aa6" opacity="0.5" filter="url(#blur2)"/>
<path d="M309.27,586.53 L309.99,586.24 L310.76,585.91 L311.54,585.56 L312.32,585.20 L312.97,584.74 L313.40,584.15 L313.80,583.56 L314.17,582.97 L314.52,582.39 L314.85,581.82 L315.15,581.26 L315.43,580.72 L315.69,580.21 L315.92,579.73 L316.14,579.28 L316.33,578.88 L316.50,578.52 L316.65,578.20 L316.77,577.94 L316.86,577.72 L316.92,577.54 L316.88,577.41 L316.95,577.22 L317.08,577.05 L317.37,576.92 L317.82,576.85 L318.38,576.85 L319.02,576.91 L319.72,577.01 L320.37,577.30 L320.89,577.88 L321.45,578.45 L322.08,578.99 L322.80,579.50 L323.63,579.93 L324.52,580.24 L325.34,580.43 L326.12,580.57 L326.90,580.67 L327.68,580.71 L328.45,580.72 L329.22,580.69 L329.98,580.62 L330.72,580.52 L331.44,580.40 L332.15,580.24 L332.83,580.07 L333.48,579.88 L334.10,579.68 L334.69,579.47 L335.35,579.21 L336.18,578.83 L337.00,578.34 L337.72,577.83 L338.35,577.30 L338.91,576.78 L339.40,576.29 L339.82,575.83 L340.17,575.43 L340.44,575.10 L340.61,574.86 L340.65,574.69 L340.54,574.56 L340.32,574.38 L340.21,574.17 L340.31,574.05 L340.61,574.13 L341.02,574.38 L341.49,574.77 L342.00,575.26 L342.40,575.87 L342.48,576.67 L342.60,577.48 L342.78,578.32 L343.06,579.17 L343.43,579.95 L343.78,580.63 L344.11,581.28 L344.49,581.97 L344.92,582.67 L345.41,583.36 L345.98,584.05 L346.63,584.71 L347.40,585.32 L348.33,585.87 L349.45,586.30 L350.77,586.50 L352.10,586.41 L353.27,586.10 L354.27,585.66 L355.15,585.14 L355.92,584.56 L356.61,583.94 L357.22,583.30 L357.77,582.65 L358.26,581.99 L358.70,581.34 L359.14,580.64 L359.58,579.89 L359.94,579.06 L360.20,578.24 L360.39,577.43 L360.52,576.63 L360.60,575.85 L360.66,575.08 L360.71,574.33 L360.74,573.62 L360.78,572.95 L360.84,572.33 L360.99,571.82 L361.39,571.57 L361.72,571.46 L361.92,571.49 L361.95,571.63 L362.06,571.79 L362.21,571.98 L362.43,572.22 L362.72,572.52 L363.06,572.89 L363.44,573.32 L363.85,573.78 L364.27,574.26 L364.71,574.75 L365.15,575.23 L365.58,575.68 L365.97,576.08 L366.37,576.49 L366.78,576.90 L367.18,577.31 L367.56,577.70 L367.93,578.07 L368.26,578.41 L368.54,578.70 L368.76,578.93 L368.92,579.08 L369.01,579.12 L369.07,578.99 L369.17,578.96 L369.28,579.06 L369.36,579.34 L369.38,579.77 L369.35,580.30 L369.26,580.90 L369.13,581.54 L368.98,582.20 L368.84,582.83 L368.71,583.40 L368.54,583.96 L368.32,584.56 L368.05,585.16 L367.58,585.58 L366.95,585.84 L366.31,586.08 L365.67,586.32 L365.06,586.54 L364.47,586.74 L363.89,586.91 L363.30,587.08 L362.80,587.41 L362.34,587.86 L361.89,588.36 L361.45,588.90 L361.03,589.48 L363.17,592.72 L363.83,592.59 L364.47,592.44 L365.11,592.25 L365.75,592.01 L366.33,591.64 L366.82,591.08 L367.29,590.48 L367.74,589.86 L368.12,589.27 L368.49,588.66 L368.87,588.03 L369.24,587.39 L369.75,586.89 L370.42,586.53 L371.09,586.13 L371.75,585.67 L372.36,585.17 L372.94,584.67 L373.52,584.14 L374.11,583.54 L374.68,582.86 L375.22,582.10 L375.70,581.22 L376.09,580.21 L376.32,579.05 L376.33,577.81 L376.12,576.67 L375.78,575.68 L375.35,574.80 L374.87,574.00 L374.33,573.26 L373.75,572.59 L373.15,571.98 L372.52,571.42 L371.88,570.92 L371.24,570.47 L370.62,570.07 L370.02,569.72 L369.39,569.40 L368.71,569.07 L367.96,568.74 L367.17,568.43 L366.33,568.15 L365.46,567.92 L364.57,567.74 L363.65,567.65 L362.71,567.66 L361.76,567.81 L360.85,568.17 L360.11,568.68 L359.60,569.29 L359.27,569.94 L359.04,570.61 L358.60,571.15 L358.09,571.69 L357.58,572.26 L357.07,572.85 L356.58,573.44 L356.10,574.02 L355.64,574.56 L355.20,575.06 L354.79,575.48 L354.43,575.81 L354.13,576.01 L353.86,576.16 L353.37,576.50 L352.84,576.91 L352.32,577.30 L351.84,577.67 L351.40,578.00 L351.01,578.28 L350.70,578.49 L350.50,578.62 L350.43,578.67 L350.54,578.68 L350.83,578.70 L351.11,578.78 L351.19,578.87 L351.05,578.89 L350.76,578.83 L350.35,578.67 L349.86,578.45 L349.32,578.17 L348.74,577.84 L348.13,577.50 L347.52,577.14 L346.97,576.85 L346.54,576.65 L346.09,576.36 L345.59,575.95 L345.07,575.45 L344.54,574.90 L344.33,574.18 L344.23,573.39 L344.06,572.59 L343.80,571.80 L343.37,571.00 L342.68,570.23 L341.68,569.62 L340.56,569.33 L339.51,569.30 L338.56,569.43 L337.69,569.65 L336.90,569.92 L336.15,570.21 L335.45,570.52 L334.79,570.81 L334.19,571.09 L333.65,571.34 L333.18,571.54 L332.81,571.67 L332.45,571.79 L331.97,571.95 L331.39,572.16 L330.82,572.38 L330.26,572.62 L329.71,572.86 L329.17,573.11 L328.64,573.37 L328.12,573.62 L327.61,573.87 L327.12,574.12 L326.64,574.35 L326.17,574.58 L325.71,574.79 L325.26,574.98 L324.88,575.16 L324.52,575.31 L324.10,575.42 L323.56,575.45 L322.94,575.42 L322.25,575.34 L321.53,575.22 L320.94,574.82 L320.41,574.25 L319.84,573.70 L319.20,573.19 L318.46,572.73 L317.59,572.38 L316.57,572.18 L315.52,572.19 L314.62,572.37 L313.84,572.63 L313.11,572.96 L312.42,573.35 L311.78,573.78 L311.17,574.25 L310.59,574.76 L310.04,575.28 L309.52,575.84 L309.03,576.41 L308.57,576.99 L308.13,577.59 L307.73,578.20 L307.35,578.81 L306.99,579.42 L306.67,580.02 L306.36,580.62 L306.27,581.32 L306.32,582.10 L306.35,582.84 L306.37,583.56 L306.33,584.27 Z" fill="#b8f44a" stroke="#a6e83e" stroke-width="0.8" stroke-linejoin="round"/>
<path d="M307.93,597.60 L308.62,597.41 L309.35,597.21 L310.11,597.02 L310.88,596.85 L311.58,596.62 L312.15,596.26 L312.69,595.91 L313.22,595.57 L313.72,595.24 L314.20,594.93 L314.66,594.64 L315.09,594.37 L315.48,594.14 L315.84,593.94 L316.17,593.77 L316.60,593.55 L317.02,593.35 L317.44,593.15 L317.86,592.96 L318.30,592.78 L318.74,592.59 L319.21,592.39 L319.69,592.20 L320.19,592.00 L320.70,591.79 L321.26,591.56 L321.79,591.33 L322.30,591.10 L322.79,590.89 L323.27,590.69 L323.73,590.50 L324.20,590.32 L324.68,590.16 L325.19,590.03 L325.67,589.92 L326.21,589.83 L326.78,589.76 L327.39,589.70 L328.01,589.66 L328.64,589.63 L329.28,589.63 L329.89,589.71 L330.37,590.11 L330.81,590.51 L331.20,590.91 L331.54,591.30 L331.91,591.77 L332.25,592.24 L332.55,592.71 L332.82,593.18 L333.06,593.65 L333.27,594.13 L333.47,594.63 L333.66,595.13 L333.83,595.65 L333.91,596.00 L333.99,596.39 L334.07,596.82 L334.16,597.30 L334.25,597.82 L334.35,598.38 L334.47,598.97 L334.59,599.58 L334.74,600.23 L334.90,600.89 L335.08,601.56 L335.29,602.25 L335.53,602.95 L335.79,603.61 L336.05,604.20 L336.31,604.77 L336.58,605.36 L336.86,605.96 L337.17,606.56 L337.48,607.17 L337.81,607.78 L338.16,608.39 L338.51,608.99 L338.88,609.58 L339.26,610.15 L339.65,610.71 L340.05,611.24 L340.45,611.73 L340.94,612.29 L341.42,612.82 L341.90,613.36 L342.41,613.88 L342.94,614.37 L343.37,614.95 L343.74,615.64 L344.19,616.32 L344.66,616.88 L345.18,617.40 L345.74,617.89 L346.33,618.36 L346.94,618.81 L347.57,619.22 L348.22,619.62 L348.87,619.99 L349.51,620.34 L350.15,620.67 L350.77,620.98 L351.39,621.27 L351.98,621.53 L352.61,621.78 L353.24,622.00 L353.89,622.21 L354.54,622.40 L355.19,622.56 L355.85,622.71 L356.51,622.83 L357.17,622.94 L357.82,623.02 L358.48,623.08 L359.12,623.13 L359.75,623.15 L360.37,623.16 L361.06,623.15 L361.74,623.13 L362.43,623.09 L363.13,623.03 L363.83,622.95 L364.55,622.85 L365.27,622.71 L366.00,622.55 L366.73,622.35 L367.47,622.11 L368.19,621.84 L368.82,621.57 L369.44,621.28 L370.07,620.97 L370.70,620.63 L371.32,620.28 L371.95,619.90 L372.56,619.51 L373.17,619.15 L373.90,619.11 L374.63,619.04 L375.35,618.94 L376.07,618.81 L376.79,618.63 L377.48,618.43 L378.15,618.20 L378.82,617.96 L379.49,617.68 L380.18,617.37 L380.86,617.02 L381.53,616.62 L382.19,616.17 L382.84,615.66 L383.46,615.10 L384.05,614.47 L384.60,613.76 L385.10,612.99 L385.52,612.15 L385.83,611.31 L386.06,610.49 L386.22,609.66 L386.32,608.84 L386.36,608.03 L386.35,607.22 L386.29,606.43 L386.19,605.64 L386.05,604.87 L385.88,604.12 L385.67,603.38 L385.44,602.66 L385.18,601.97 L384.91,601.30 L384.61,600.66 L384.30,600.04 L383.97,599.42 L383.60,598.80 L383.20,598.19 L382.78,597.59 L382.33,597.00 L381.86,596.44 L381.37,595.89 L380.86,595.36 L380.35,594.85 L379.82,594.37 L379.29,593.91 L378.76,593.49 L378.35,592.99 L378.08,592.40 L377.78,591.82 L377.43,591.25 L376.93,590.58 L376.35,589.96 L375.74,589.40 L375.13,588.91 L374.51,588.47 L373.86,588.25 L373.21,588.15 L372.59,588.10 L371.99,588.07 L371.36,588.04 L369.84,591.36 L370.36,591.85 L370.94,592.31 L371.51,592.70 L372.05,593.04 L372.58,593.28 L373.14,593.33 L373.67,593.39 L374.17,593.46 L374.66,593.57 L375.17,593.75 L375.58,593.93 L376.04,594.18 L376.51,594.47 L376.83,594.92 L377.01,595.49 L377.18,596.08 L377.33,596.68 L377.46,597.29 L377.59,597.90 L377.70,598.51 L377.79,599.12 L377.88,599.72 L377.95,600.31 L378.01,600.88 L378.06,601.43 L378.10,601.96 L378.13,602.51 L378.17,603.07 L378.21,603.65 L378.24,604.23 L378.27,604.80 L378.30,605.37 L378.32,605.92 L378.34,606.45 L378.36,606.97 L378.36,607.45 L378.36,607.90 L378.35,608.31 L378.33,608.68 L378.31,608.99 L378.29,609.26 L378.28,609.45 L378.24,609.70 L378.17,609.98 L378.07,610.29 L377.92,610.64 L377.73,611.02 L377.50,611.43 L377.23,611.86 L376.93,612.30 L376.61,612.76 L376.26,613.21 L375.88,613.67 L375.50,614.13 L375.12,614.57 L374.76,614.99 L374.37,615.40 L373.94,615.81 L373.47,616.22 L372.97,616.62 L372.45,617.02 L371.80,617.07 L371.14,617.06 L370.48,617.03 L369.83,616.99 L369.20,616.94 L368.58,616.89 L367.97,616.83 L367.41,616.76 L366.81,616.67 L366.24,616.57 L365.69,616.46 L365.15,616.34 L364.60,616.21 L364.04,616.08 L363.48,615.95 L362.90,615.81 L362.30,615.68 L361.67,615.56 L361.03,615.44 L360.48,615.34 L359.93,615.25 L359.38,615.17 L358.82,615.09 L358.25,615.01 L357.68,614.94 L357.11,614.88 L356.54,614.81 L355.98,614.76 L355.42,614.71 L354.86,614.66 L354.31,614.62 L353.77,614.57 L353.21,614.53 L352.56,614.47 L351.89,614.42 L351.23,614.38 L350.58,614.35 L349.94,614.32 L349.32,614.29 L348.72,614.25 L348.15,614.21 L347.60,614.15 L347.10,614.08 L346.63,613.99 L346.21,613.88 L345.70,613.68 L345.22,613.44 L344.91,613.02 L344.79,612.47 L344.68,611.89 L344.58,611.26 L344.47,610.58 L344.35,609.87 L344.28,609.35 L344.23,608.82 L344.18,608.27 L344.13,607.68 L344.08,607.08 L344.02,606.46 L343.96,605.82 L343.89,605.16 L343.82,604.50 L343.72,603.84 L343.62,603.16 L343.50,602.49 L343.36,601.82 L343.21,601.19 L343.07,600.62 L342.94,600.06 L342.80,599.47 L342.64,598.85 L342.46,598.21 L342.26,597.55 L342.04,596.88 L341.80,596.20 L341.52,595.51 L341.21,594.82 L340.87,594.13 L340.48,593.45 L340.05,592.78 L339.57,592.15 L338.98,591.49 L338.37,590.90 L337.73,590.35 L337.07,589.85 L336.39,589.40 L335.68,589.00 L334.96,588.65 L334.22,588.35 L333.46,588.10 L332.79,587.92 L332.10,587.78 L331.40,587.67 L330.70,587.59 L330.09,587.24 L329.49,586.83 L328.86,586.45 L328.23,586.10 L327.58,585.77 L326.93,585.47 L326.28,585.20 L325.61,584.97 L324.83,584.76 L324.03,584.61 L323.24,584.50 L322.47,584.45 L321.71,584.43 L320.97,584.44 L320.26,584.48 L319.57,584.54 L318.90,584.61 L318.26,584.70 L317.61,584.81 L316.95,584.94 L316.27,585.11 L315.58,585.32 L314.88,585.56 L314.17,585.85 L313.45,586.19 L312.74,586.59 L312.03,587.03 L311.42,587.47 L310.84,587.95 L310.30,588.44 L309.80,588.96 L309.32,589.49 L308.87,590.03 L308.44,590.59 L308.03,591.15 L307.65,591.72 L307.28,592.29 L307.05,592.99 L306.89,593.73 L306.71,594.45 L306.51,595.14 L306.27,595.80 Z" fill="#b8f44a" stroke="#a6e83e" stroke-width="0.8" stroke-linejoin="round"/>
<path d="M355.74,598.47 L356.29,597.91 L356.83,597.27 L357.34,596.64 L357.81,596.04 L358.14,595.46 L358.15,594.89 L358.13,594.38 L358.09,593.94 L358.04,593.57 L357.96,593.26 L357.87,593.02 L357.77,592.80 L357.79,592.40 L357.91,591.91 L358.10,591.36 L358.36,590.78 L358.68,590.21 L359.10,589.75 L359.71,589.87 L360.23,590.05 L360.62,590.28 L360.85,590.54 L360.98,590.80 L361.17,591.10 L361.40,591.45 L361.64,591.82 L361.89,592.21 L362.12,592.59 L362.34,592.95 L362.53,593.27 L362.68,593.53 L362.77,593.70 L362.81,593.76 L362.85,593.78 L362.96,593.94 L363.11,594.22 L363.28,594.59 L363.47,595.03 L363.68,595.52 L363.89,596.06 L364.10,596.63 L364.30,597.21 L364.48,597.79 L364.63,598.36 L364.75,598.90 L364.84,599.38 L364.71,599.82 L364.19,599.95 L363.64,600.04 L363.06,600.10 L362.44,600.16 L361.85,600.36 L361.31,600.74 L360.76,601.22 L360.24,601.79 L359.81,602.40 L362.19,605.60 L362.80,605.44 L363.38,605.28 L363.97,605.05 L364.57,604.73 L365.11,604.22 L365.57,603.53 L366.00,602.80 L366.37,602.03 L366.64,601.22 L367.16,600.62 L367.71,600.09 L368.23,599.51 L368.73,598.86 L369.19,598.15 L369.61,597.39 L369.97,596.59 L370.27,595.75 L370.49,594.88 L370.61,593.99 L370.64,593.08 L370.56,592.15 L370.35,591.21 L369.99,590.24 L369.46,589.32 L368.83,588.51 L368.13,587.82 L367.36,587.23 L366.54,586.74 L365.68,586.35 L364.79,586.06 L363.89,585.86 L362.98,585.76 L362.07,585.76 L361.15,585.86 L360.27,586.13 L359.48,586.54 L358.79,587.05 L358.19,587.63 L357.39,587.75 L356.53,587.86 L355.67,588.04 L354.83,588.32 L354.01,588.70 L353.23,589.20 L352.53,589.86 L351.94,590.59 L351.46,591.35 L351.07,592.11 L350.76,592.86 L350.51,593.59 L350.32,594.29 L350.47,594.99 L350.76,595.66 L351.07,596.30 L351.39,596.90 L351.66,597.53 Z" fill="#b8f44a" stroke="#a6e83e" stroke-width="0.8" stroke-linejoin="round"/>
<path d="M307.10,599.82 L307.94,599.70 L308.89,599.56 L309.87,599.45 L310.86,599.37 L311.57,599.11 L312.12,598.82 L312.53,598.58 L312.80,598.41 L312.88,598.33 L312.72,598.32 L312.33,598.30 L312.17,598.14 L312.23,597.94 L312.50,597.75 L312.93,597.61 L313.50,597.54 L314.17,597.53 L314.89,597.59 L315.63,597.73 L315.65,598.18 L315.57,598.71 L315.45,599.25 L315.32,599.82 L315.18,600.41 L315.05,601.03 L314.94,601.66 L314.87,602.31 L314.85,602.98 L314.90,603.66 L315.01,604.34 L315.39,604.98 L316.04,605.56 L316.72,606.12 L317.41,606.67 L318.07,607.16 L321.53,606.04 L321.79,605.30 L322.10,604.58 L322.43,603.84 L322.73,603.09 L322.76,602.38 L322.54,601.72 L322.24,601.06 L321.87,600.40 L321.44,599.75 L320.95,599.13 L320.41,598.54 L319.83,597.98 L319.22,597.47 L318.60,597.01 L317.96,596.62 L317.37,596.27 L317.16,595.36 L316.85,594.44 L316.40,593.55 L315.82,592.71 L315.07,591.96 L314.13,591.33 L313.00,590.88 L311.67,590.70 L310.29,590.89 L309.12,591.32 L308.19,591.88 L307.44,592.50 L306.83,593.18 L306.36,593.89 L306.04,594.68 L306.00,595.66 L305.96,596.58 L305.88,597.42 L305.70,598.18 Z" fill="#b8f44a" stroke="#a6e83e" stroke-width="0.8" stroke-linejoin="round"/>
<path d="M307.82,585.19 L308.31,584.77 L308.83,584.31 L309.34,583.84 L309.86,583.34 L310.32,582.80 L310.71,582.21 L311.09,581.61 L311.46,581.02 L311.82,580.43 L312.17,579.84 L312.51,579.27 L312.85,578.72 L313.18,578.19 L313.51,577.68 L313.83,577.21 L314.15,576.77 L314.47,576.38 L314.78,576.03 L315.08,575.72 L315.38,575.47 L315.67,575.26 L315.94,575.11 L316.33,574.98 L316.74,574.93 L317.23,574.96 L317.77,575.06 L318.35,575.23 L318.97,575.44 L319.62,575.70 L320.24,576.03 L320.83,576.45 L321.43,576.86 L322.06,577.24 L322.72,577.57 L323.42,577.83 L324.14,577.99 L324.82,578.06 L325.49,578.09 L326.16,578.09 L326.84,578.05 L327.52,577.97 L328.20,577.87 L328.87,577.74 L329.54,577.60 L330.20,577.43 L330.85,577.25 L331.49,577.05 L332.11,576.84 L332.72,576.63 L333.31,576.42 L333.91,576.20 L334.59,575.90 L335.26,575.53 L335.90,575.12 L336.50,574.68 L337.07,574.24 L337.62,573.81 L338.13,573.40 L338.61,573.04 L339.05,572.73 L339.44,572.50 L339.78,572.34 L340.05,572.26 L340.26,572.23 L340.51,572.29 L340.81,572.46 L341.15,572.77 L341.51,573.20 L341.88,573.72 L342.26,574.31 L342.60,574.95 L342.82,575.67 L343.07,576.38 L343.35,577.08 L343.69,577.75 L344.08,578.34 L344.50,578.89 L344.92,579.45 L345.37,580.03 L345.85,580.60 L346.36,581.17 L346.90,581.70 L347.47,582.20 L348.09,582.63 L348.76,583.00 L349.49,583.26 L350.29,583.37 L351.09,583.30 L351.85,583.09 L352.55,582.77 L353.20,582.38 L353.82,581.92 L354.41,581.41 L354.97,580.87 L355.50,580.31 L356.00,579.74 L356.47,579.16 L356.92,578.58 L357.31,578.03 L357.65,577.40 L357.94,576.75 L358.20,576.06 L358.43,575.36 L358.64,574.65 L358.84,573.94 L359.03,573.25 L359.21,572.58 L359.41,571.94 L359.61,571.34 L359.86,570.83 L360.20,570.44 L360.53,570.16 L360.83,569.98 L361.09,569.91 L361.46,569.90 L361.87,569.97 L362.33,570.13 L362.82,570.37 L363.34,570.68 L363.88,571.04 L364.43,571.44 L364.97,571.86 L365.51,572.30 L366.03,572.73 L366.52,573.14 L366.98,573.53 L367.46,573.93 L367.94,574.36 L368.41,574.80 L368.88,575.24 L369.32,575.69 L369.73,576.14 L370.09,576.57 L370.40,576.99 L370.65,577.38 L370.82,577.72 L370.93,578.01 L371.00,578.39 L370.99,578.84 L370.92,579.35 L370.78,579.92 L370.58,580.53 L370.33,581.16 L370.06,581.78 L369.77,582.40 L369.48,582.99 L369.20,583.54 L368.87,584.07 L368.50,584.60 L368.10,585.12 L367.62,585.57 L367.07,585.95 L366.52,586.32 L365.97,586.67 L365.43,587.02 L364.88,587.36 L364.34,587.67 L363.78,587.96 L363.26,588.31 L362.74,588.69 L362.23,589.08 L361.72,589.50 L361.23,589.93 L361.97,591.07 L362.56,590.79 L363.14,590.51 L363.71,590.22 L364.29,589.92 L364.85,589.56 L365.36,589.12 L365.87,588.66 L366.37,588.18 L366.82,587.71 L367.28,587.22 L367.75,586.72 L368.20,586.20 L368.70,585.73 L369.24,585.29 L369.76,584.83 L370.26,584.33 L370.72,583.81 L371.15,583.27 L371.59,582.69 L372.03,582.08 L372.45,581.43 L372.82,580.74 L373.14,580.01 L373.38,579.24 L373.50,578.42 L373.47,577.59 L373.31,576.86 L373.05,576.19 L372.71,575.54 L372.31,574.93 L371.85,574.34 L371.36,573.78 L370.83,573.24 L370.28,572.74 L369.72,572.26 L369.16,571.82 L368.61,571.42 L368.08,571.06 L367.51,570.69 L366.91,570.31 L366.26,569.93 L365.59,569.57 L364.89,569.23 L364.18,568.94 L363.47,568.70 L362.75,568.53 L362.05,568.46 L361.36,568.51 L360.71,568.69 L360.20,568.99 L359.79,569.39 L359.46,569.87 L359.17,570.40 L358.83,570.93 L358.46,571.50 L358.11,572.10 L357.75,572.73 L357.41,573.37 L357.06,574.01 L356.72,574.63 L356.39,575.23 L356.05,575.78 L355.72,576.26 L355.40,576.67 L355.08,577.02 L354.60,577.47 L354.10,577.96 L353.59,578.44 L353.09,578.90 L352.59,579.33 L352.11,579.72 L351.65,580.05 L351.23,580.31 L350.86,580.49 L350.55,580.59 L350.31,580.63 L350.07,580.62 L349.76,580.54 L349.36,580.38 L348.92,580.14 L348.43,579.82 L347.92,579.45 L347.39,579.03 L346.86,578.58 L346.33,578.13 L345.81,577.67 L345.32,577.26 L344.91,576.87 L344.51,576.40 L344.12,575.85 L343.73,575.24 L343.34,574.61 L343.07,573.93 L342.84,573.24 L342.57,572.57 L342.26,571.95 L341.87,571.39 L341.37,570.91 L340.74,570.57 L340.05,570.43 L339.38,570.45 L338.72,570.60 L338.09,570.83 L337.46,571.11 L336.84,571.44 L336.23,571.79 L335.63,572.15 L335.04,572.51 L334.47,572.85 L333.92,573.15 L333.40,573.40 L332.89,573.60 L332.35,573.79 L331.77,574.00 L331.18,574.22 L330.59,574.44 L330.00,574.66 L329.41,574.88 L328.81,575.09 L328.22,575.29 L327.64,575.49 L327.05,575.66 L326.48,575.82 L325.91,575.96 L325.34,576.07 L324.79,576.16 L324.26,576.21 L323.73,576.21 L323.18,576.14 L322.58,576.00 L321.95,575.80 L321.31,575.56 L320.65,575.30 L320.04,574.93 L319.46,574.51 L318.86,574.12 L318.25,573.78 L317.60,573.49 L316.92,573.30 L316.19,573.22 L315.46,573.29 L314.87,573.45 L314.32,573.69 L313.80,573.98 L313.30,574.33 L312.81,574.72 L312.34,575.16 L311.89,575.63 L311.45,576.13 L311.03,576.66 L310.61,577.21 L310.21,577.78 L309.82,578.36 L309.44,578.96 L309.07,579.56 L308.70,580.16 L308.35,580.76 L308.01,581.36 L307.74,581.98 L307.51,582.62 L307.29,583.24 L307.05,583.83 L306.78,584.41 Z" fill="#dcff86" opacity="0.7"/>
<path d="M306.89,596.42 L307.44,596.07 L308.00,595.71 L308.56,595.35 L309.13,594.99 L309.68,594.61 L310.18,594.18 L310.68,593.76 L311.16,593.35 L311.64,592.95 L312.12,592.56 L312.58,592.19 L313.03,591.84 L313.47,591.53 L313.91,591.24 L314.32,590.98 L314.84,590.69 L315.36,590.42 L315.87,590.18 L316.39,589.96 L316.91,589.75 L317.44,589.56 L317.97,589.37 L318.51,589.20 L319.06,589.02 L319.62,588.86 L320.21,588.68 L320.79,588.50 L321.37,588.34 L321.94,588.19 L322.51,588.06 L323.07,587.95 L323.65,587.87 L324.23,587.81 L324.83,587.78 L325.37,587.79 L325.94,587.81 L326.54,587.86 L327.16,587.93 L327.79,588.02 L328.42,588.12 L329.04,588.25 L329.65,588.42 L330.21,588.72 L330.73,589.02 L331.22,589.34 L331.66,589.66 L332.16,590.06 L332.63,590.47 L333.07,590.90 L333.48,591.35 L333.86,591.82 L334.22,592.30 L334.56,592.81 L334.89,593.35 L335.20,593.91 L335.41,594.36 L335.60,594.83 L335.78,595.35 L335.95,595.90 L336.11,596.47 L336.27,597.07 L336.43,597.69 L336.59,598.32 L336.75,598.97 L336.91,599.62 L337.09,600.28 L337.28,600.94 L337.48,601.59 L337.70,602.22 L337.92,602.83 L338.14,603.43 L338.37,604.04 L338.59,604.67 L338.83,605.29 L339.07,605.92 L339.31,606.54 L339.56,607.16 L339.82,607.77 L340.09,608.36 L340.36,608.94 L340.64,609.49 L340.92,610.03 L341.22,610.52 L341.59,611.13 L341.95,611.72 L342.31,612.28 L342.68,612.82 L343.08,613.33 L343.47,613.86 L343.87,614.40 L344.35,614.93 L344.80,615.34 L345.30,615.72 L345.84,616.08 L346.42,616.41 L347.02,616.73 L347.64,617.02 L348.28,617.30 L348.92,617.56 L349.57,617.81 L350.22,618.04 L350.85,618.26 L351.48,618.48 L352.06,618.67 L352.66,618.85 L353.27,619.02 L353.88,619.17 L354.51,619.31 L355.13,619.44 L355.76,619.56 L356.39,619.67 L357.02,619.76 L357.65,619.84 L358.27,619.91 L358.88,619.97 L359.49,620.02 L360.09,620.05 L360.76,620.08 L361.42,620.11 L362.08,620.12 L362.74,620.13 L363.40,620.12 L364.06,620.09 L364.73,620.04 L365.40,619.97 L366.08,619.87 L366.76,619.75 L367.44,619.59 L368.04,619.43 L368.66,619.25 L369.28,619.06 L369.92,618.85 L370.55,618.62 L371.18,618.38 L371.81,618.12 L372.44,617.86 L373.10,617.70 L373.75,617.52 L374.39,617.32 L375.02,617.10 L375.63,616.85 L376.21,616.57 L376.79,616.28 L377.36,615.97 L377.94,615.63 L378.52,615.27 L379.08,614.88 L379.63,614.47 L380.17,614.03 L380.68,613.56 L381.16,613.05 L381.61,612.51 L382.01,611.93 L382.37,611.32 L382.67,610.67 L382.88,610.05 L383.05,609.40 L383.16,608.74 L383.23,608.07 L383.26,607.39 L383.25,606.70 L383.21,606.00 L383.14,605.31 L383.04,604.61 L382.92,603.92 L382.77,603.24 L382.60,602.57 L382.42,601.92 L382.22,601.28 L382.01,600.66 L381.79,600.06 L381.55,599.47 L381.28,598.87 L380.99,598.28 L380.68,597.68 L380.35,597.09 L380.00,596.51 L379.64,595.94 L379.26,595.38 L378.87,594.84 L378.46,594.32 L378.05,593.83 L377.63,593.35 L377.25,592.87 L376.91,592.38 L376.56,591.91 L376.20,591.46 L375.69,590.95 L375.14,590.50 L374.57,590.10 L373.98,589.75 L373.39,589.43 L372.77,589.21 L372.16,589.03 L371.55,588.87 L370.96,588.70 L370.37,588.52 L369.83,589.68 L370.39,590.03 L370.98,590.34 L371.56,590.62 L372.14,590.89 L372.71,591.12 L373.29,591.29 L373.84,591.49 L374.38,591.72 L374.90,592.00 L375.40,592.34 L375.80,592.65 L376.20,593.00 L376.61,593.39 L376.96,593.85 L377.25,594.38 L377.54,594.92 L377.81,595.48 L378.07,596.06 L378.32,596.64 L378.55,597.24 L378.77,597.83 L378.97,598.43 L379.16,599.02 L379.33,599.60 L379.48,600.17 L379.61,600.74 L379.74,601.31 L379.86,601.90 L379.97,602.50 L380.08,603.12 L380.18,603.74 L380.26,604.36 L380.34,604.98 L380.39,605.59 L380.43,606.19 L380.46,606.78 L380.46,607.34 L380.44,607.88 L380.40,608.40 L380.33,608.88 L380.24,609.33 L380.13,609.73 L379.97,610.17 L379.76,610.61 L379.51,611.05 L379.22,611.49 L378.89,611.93 L378.53,612.37 L378.13,612.81 L377.71,613.23 L377.27,613.65 L376.81,614.07 L376.34,614.47 L375.86,614.85 L375.39,615.23 L374.92,615.57 L374.42,615.90 L373.90,616.23 L373.35,616.53 L372.77,616.83 L372.19,617.11 L371.55,617.27 L370.90,617.38 L370.26,617.49 L369.61,617.58 L368.98,617.65 L368.36,617.72 L367.75,617.77 L367.16,617.81 L366.52,617.84 L365.90,617.85 L365.29,617.84 L364.69,617.81 L364.08,617.77 L363.48,617.71 L362.86,617.65 L362.25,617.58 L361.62,617.50 L360.97,617.43 L360.31,617.35 L359.75,617.28 L359.17,617.21 L358.58,617.14 L357.99,617.07 L357.40,616.99 L356.80,616.91 L356.20,616.82 L355.61,616.73 L355.01,616.64 L354.42,616.55 L353.83,616.45 L353.25,616.34 L352.69,616.24 L352.12,616.12 L351.48,615.99 L350.83,615.85 L350.17,615.72 L349.52,615.59 L348.88,615.44 L348.25,615.29 L347.64,615.13 L347.05,614.96 L346.50,614.77 L345.97,614.56 L345.49,614.33 L345.05,614.07 L344.56,613.72 L344.12,613.33 L343.77,612.86 L343.51,612.33 L343.28,611.77 L343.05,611.17 L342.82,610.54 L342.58,609.88 L342.41,609.37 L342.24,608.83 L342.08,608.28 L341.92,607.70 L341.77,607.10 L341.62,606.48 L341.46,605.86 L341.31,605.22 L341.15,604.57 L341.00,603.93 L340.83,603.28 L340.66,602.63 L340.48,601.99 L340.30,601.38 L340.12,600.78 L339.95,600.17 L339.79,599.55 L339.62,598.91 L339.45,598.27 L339.27,597.61 L339.08,596.96 L338.88,596.31 L338.66,595.66 L338.42,595.03 L338.16,594.41 L337.87,593.81 L337.55,593.23 L337.20,592.69 L336.75,592.08 L336.28,591.51 L335.78,590.98 L335.27,590.48 L334.72,590.03 L334.16,589.60 L333.58,589.22 L332.97,588.86 L332.34,588.54 L331.77,588.29 L331.18,588.06 L330.57,587.86 L329.93,587.68 L329.33,587.41 L328.71,587.14 L328.09,586.89 L327.45,586.67 L326.82,586.46 L326.20,586.29 L325.58,586.14 L324.97,586.02 L324.28,585.92 L323.59,585.86 L322.90,585.85 L322.23,585.88 L321.56,585.93 L320.91,586.01 L320.26,586.11 L319.62,586.22 L318.98,586.34 L318.39,586.47 L317.79,586.61 L317.18,586.76 L316.58,586.94 L315.96,587.14 L315.35,587.37 L314.73,587.63 L314.11,587.92 L313.49,588.25 L312.88,588.62 L312.36,588.97 L311.85,589.36 L311.36,589.77 L310.88,590.20 L310.41,590.66 L309.94,591.12 L309.49,591.61 L309.05,592.10 L308.61,592.60 L308.18,593.10 L307.79,593.64 L307.44,594.20 L307.07,594.75 L306.70,595.28 L306.31,595.78 Z" fill="#dcff86" opacity="0.7"/>
<path d="M353.91,597.56 L354.19,596.98 L354.46,596.36 L354.70,595.73 L354.93,595.10 L355.10,594.48 L355.17,593.87 L355.24,593.29 L355.31,592.75 L355.40,592.25 L355.50,591.79 L355.63,591.39 L355.80,591.03 L356.06,590.60 L356.41,590.14 L356.81,589.68 L357.27,589.23 L357.76,588.81 L358.30,588.46 L358.91,588.35 L359.49,588.31 L360.01,588.33 L360.45,588.42 L360.83,588.56 L361.26,588.77 L361.71,589.03 L362.16,589.35 L362.62,589.71 L363.06,590.09 L363.47,590.49 L363.85,590.90 L364.18,591.29 L364.45,591.67 L364.65,592.02 L364.79,592.35 L364.93,592.76 L365.06,593.25 L365.16,593.79 L365.25,594.38 L365.32,595.00 L365.37,595.64 L365.39,596.28 L365.39,596.92 L365.36,597.54 L365.30,598.13 L365.21,598.69 L365.09,599.18 L364.84,599.67 L364.40,600.03 L363.91,600.34 L363.38,600.61 L362.81,600.88 L362.23,601.18 L361.67,601.54 L361.11,601.94 L360.57,602.37 L360.08,602.84 L360.92,603.96 L361.47,603.65 L362.03,603.36 L362.60,603.05 L363.19,602.71 L363.74,602.30 L364.26,601.82 L364.74,601.30 L365.16,600.75 L365.52,600.17 L365.91,599.62 L366.25,599.10 L366.56,598.54 L366.85,597.91 L367.10,597.25 L367.32,596.55 L367.50,595.82 L367.63,595.08 L367.71,594.33 L367.73,593.58 L367.69,592.85 L367.59,592.13 L367.41,591.44 L367.15,590.78 L366.79,590.14 L366.33,589.54 L365.81,588.99 L365.23,588.49 L364.61,588.04 L363.95,587.66 L363.27,587.33 L362.58,587.08 L361.89,586.90 L361.21,586.80 L360.55,586.78 L359.88,586.88 L359.23,587.08 L358.59,587.37 L357.98,587.72 L357.31,587.95 L356.63,588.21 L355.96,588.52 L355.33,588.89 L354.74,589.30 L354.20,589.77 L353.77,590.29 L353.40,590.86 L353.10,591.47 L352.85,592.11 L352.65,592.76 L352.49,593.41 L352.36,594.07 L352.36,594.73 L352.40,595.38 L352.44,596.01 L352.48,596.63 L352.49,597.24 Z" fill="#dcff86" opacity="0.7"/>
<path d="M306.15,598.69 L306.77,598.36 L307.43,597.99 L308.11,597.62 L308.79,597.25 L309.38,596.81 L309.90,596.39 L310.38,596.01 L310.80,595.69 L311.16,595.45 L311.43,595.31 L311.62,595.23 L311.94,595.18 L312.35,595.19 L312.83,595.27 L313.37,595.42 L313.95,595.64 L314.54,595.93 L315.13,596.27 L315.70,596.66 L315.90,597.08 L316.05,597.56 L316.18,598.07 L316.28,598.62 L316.38,599.20 L316.46,599.81 L316.55,600.44 L316.65,601.09 L316.75,601.75 L316.88,602.43 L317.03,603.10 L317.27,603.76 L317.61,604.40 L317.97,605.02 L318.33,605.63 L318.70,606.20 L319.90,605.80 L319.87,605.15 L319.85,604.48 L319.85,603.80 L319.84,603.10 L319.74,602.42 L319.55,601.75 L319.34,601.08 L319.10,600.42 L318.82,599.77 L318.53,599.15 L318.21,598.55 L317.86,597.98 L317.50,597.45 L317.11,596.96 L316.71,596.53 L316.30,596.14 L315.92,595.48 L315.48,594.85 L314.96,594.25 L314.38,593.70 L313.73,593.24 L313.02,592.88 L312.23,592.64 L311.38,592.57 L310.58,592.71 L309.84,593.00 L309.19,593.40 L308.59,593.88 L308.05,594.41 L307.55,594.99 L307.11,595.60 L306.76,596.29 L306.41,596.95 L306.05,597.56 L305.65,598.11 Z" fill="#dcff86" opacity="0.7"/>
<circle cx="317.7" cy="576.2" r="3.0" fill="url(#dotG)"/>
<circle cx="340.3" cy="575.3" r="2.2" fill="url(#dotG)"/>
<circle cx="361.4" cy="574.1" r="3.0" fill="url(#dotG)"/>
<circle cx="370.6" cy="577.7" r="2.2" fill="url(#dotG)"/>
<circle cx="332.5" cy="589.7" r="3.0" fill="url(#dotG)"/>
<circle cx="314.1" cy="598.1" r="3.0" fill="url(#dotG)"/>
<circle cx="357.2" cy="594.6" r="3.0" fill="url(#dotG)"/>
<circle cx="370.6" cy="591.1" r="3.0" fill="url(#dotG)"/>
<circle cx="380.5" cy="597.4" r="2.0" fill="url(#dotG)"/>
<circle cx="345.2" cy="613.7" r="3.0" fill="url(#dotG)"/>
<circle cx="364.3" cy="620.0" r="3.0" fill="url(#dotG)"/>
<circle cx="382.6" cy="609.4" r="2.0" fill="url(#dotG)"/>
<ellipse cx="382.6" cy="609.4" rx="5.4" ry="4.4" fill="none" stroke="#e02a2a" stroke-width="1.2"/>
<line x1="388.5" y1="614.9" x2="404" y2="624" stroke="#5b90d0" stroke-width="1.8"/>
<polygon points="410.6,627.8 401,627.5 405.5,619.8" fill="#5b90d0"/>
<circle cx="424.5" cy="634.7" r="15.9" fill="#6cc4d2"/>
<circle cx="424.5" cy="634.7" r="7.8" fill="#e6f2f6"/>
<circle cx="424.5" cy="634.7" r="5.4" fill="url(#auG)"/>
<text x="428.00" y="628.20" font-size="12.50" text-anchor="middle" fill="#000" font-weight="bold" >e</text>
<text x="413.50" y="638.80" font-size="12.50" text-anchor="middle" fill="#000" font-weight="bold" >e</text>
<text x="430.40" y="650.00" font-size="12.50" text-anchor="middle" fill="#000" font-weight="bold" >e</text>
<path d="M375.5,571.5 C384,568.5 391,572 391.5,578 C392,583 388.5,586.5 385.5,588.5" fill="none" stroke="#4a76b6" stroke-width="2.9" stroke-linecap="butt"/>
<path d="M375.5,571.5 C384,568.5 391,572 391.5,578 C392,583 388.5,586.5 385.5,588.5" fill="none" stroke="#7c9ed2" stroke-width="1.1" stroke-linecap="butt"/>
<polygon points="381.82,592.18 383.10,586.10 387.90,590.90" fill="#5f88c6" stroke="#4a76b6" stroke-width="0.7" stroke-linejoin="round"/>
<path d="M402.2,568.4 C396,569 391.5,573 391.5,578 C391.5,583.5 395.5,587.5 399.5,589" fill="none" stroke="#4a76b6" stroke-width="2.9" stroke-linecap="butt"/>
<path d="M402.2,568.4 C396,569 391.5,573 391.5,578 C391.5,583.5 395.5,587.5 399.5,589" fill="none" stroke="#7c9ed2" stroke-width="1.1" stroke-linecap="butt"/>
<polygon points="404.52,590.35 398.62,592.28 400.38,585.72" fill="#5f88c6" stroke="#4a76b6" stroke-width="0.7" stroke-linejoin="round"/>
<text x="396.20" y="582.40" font-size="11.50" text-anchor="middle" fill="#000" font-weight="bold" >e</text>
<path d="M436.7,569.2 C444,570 448.5,574 448.5,579.4 C448.5,584.5 445,588 440.5,589.6" fill="none" stroke="#4a76b6" stroke-width="2.9" stroke-linecap="butt"/>
<path d="M436.7,569.2 C444,570 448.5,574 448.5,579.4 C448.5,584.5 445,588 440.5,589.6" fill="none" stroke="#7c9ed2" stroke-width="1.1" stroke-linecap="butt"/>
<polygon points="435.38,590.50 439.91,586.25 441.09,592.95" fill="#5f88c6" stroke="#4a76b6" stroke-width="0.7" stroke-linejoin="round"/>
<path d="M459.5,570 C453,570.5 448.5,574.5 448.5,579.4 C448.5,585 452.5,588.5 456.5,590" fill="none" stroke="#4a76b6" stroke-width="2.9" stroke-linecap="butt"/>
<path d="M459.5,570 C453,570.5 448.5,574.5 448.5,579.4 C448.5,585 452.5,588.5 456.5,590" fill="none" stroke="#7c9ed2" stroke-width="1.1" stroke-linecap="butt"/>
<polygon points="461.52,591.35 455.62,593.28 457.38,586.72" fill="#5f88c6" stroke="#4a76b6" stroke-width="0.7" stroke-linejoin="round"/>
<path d="M452.5,644.5 C446,643.5 441,639.5 441,633.5 C441,627.5 445,623.5 449.5,622" fill="none" stroke="#4a76b6" stroke-width="2.8" stroke-linecap="butt"/>
<path d="M452.5,644.5 C446,643.5 441,639.5 441,633.5 C441,627.5 445,623.5 449.5,622" fill="none" stroke="#7c9ed2" stroke-width="1.1" stroke-linecap="butt"/>
<polygon points="454.81,620.58 450.43,625.48 448.57,618.52" fill="#5f88c6" stroke="#4a76b6" stroke-width="0.7" stroke-linejoin="round"/>
<ellipse cx="425" cy="580" rx="16" ry="4" fill="#8890aa" opacity="0.5" filter="url(#blur2)"/>
<path d="M404.60,571.20 L405.10,571.70 L405.60,572.12 L406.10,572.42 L406.60,572.54 L407.10,572.46 L407.60,572.18 L408.10,571.74 L408.60,571.17 L409.10,570.54 L409.60,569.93 L410.10,569.40 L410.60,569.02 L411.10,568.81 L411.60,568.81 L412.10,569.01 L412.60,569.36 L413.10,569.83 L413.60,570.33 L414.10,570.81 L414.60,571.19 L415.10,571.42 L415.60,571.46 L416.10,571.30 L416.60,570.95 L417.10,570.45 L417.60,569.85 L418.10,569.22 L418.60,568.64 L419.10,568.16 L419.60,567.84 L420.10,567.72 L420.60,567.80 L421.10,568.06 L421.60,568.47 L422.10,568.96 L422.60,569.46 L423.10,569.91 L423.60,570.24 L424.10,570.40 L424.60,570.36 L425.10,570.12 L425.60,569.70 L426.10,569.15 L426.60,568.53 L427.10,567.91 L427.60,567.36 L428.10,566.94 L428.60,566.70 L429.10,566.66 L429.60,566.82 L430.10,567.14 L430.60,567.59 L431.10,568.09 L431.60,568.58 L432.10,568.99 L432.60,569.25" fill="none" stroke="#b2ec3a" stroke-width="3.9" stroke-linecap="round" stroke-linejoin="round"/>
<path d="M404.60,571.20 L405.10,571.70 L405.60,572.12 L406.10,572.42 L406.60,572.54 L407.10,572.46 L407.60,572.18 L408.10,571.74 L408.60,571.17 L409.10,570.54 L409.60,569.93 L410.10,569.40 L410.60,569.02 L411.10,568.81 L411.60,568.81 L412.10,569.01 L412.60,569.36 L413.10,569.83 L413.60,570.33 L414.10,570.81 L414.60,571.19 L415.10,571.42 L415.60,571.46 L416.10,571.30 L416.60,570.95 L417.10,570.45 L417.60,569.85 L418.10,569.22 L418.60,568.64 L419.10,568.16 L419.60,567.84 L420.10,567.72 L420.60,567.80 L421.10,568.06 L421.60,568.47 L422.10,568.96 L422.60,569.46 L423.10,569.91 L423.60,570.24 L424.10,570.40 L424.60,570.36 L425.10,570.12 L425.60,569.70 L426.10,569.15 L426.60,568.53 L427.10,567.91 L427.60,567.36 L428.10,566.94 L428.60,566.70 L429.10,566.66 L429.60,566.82 L430.10,567.14 L430.60,567.59 L431.10,568.09 L431.60,568.58 L432.10,568.99 L432.60,569.25" fill="none" stroke="#c8f83e" stroke-width="2.5" stroke-linecap="round" stroke-linejoin="round"/>
<path d="M406.20,591.40 L406.70,591.90 L407.20,592.34 L407.70,592.64 L408.20,592.77 L408.70,592.69 L409.20,592.42 L409.70,591.98 L410.20,591.42 L410.70,590.80 L411.20,590.19 L411.70,589.67 L412.20,589.29 L412.70,589.10 L413.20,589.10 L413.70,589.30 L414.20,589.66 L414.70,590.13 L415.20,590.65 L415.70,591.13 L416.20,591.52 L416.70,591.76 L417.20,591.80 L417.70,591.65 L418.20,591.31 L418.70,590.81 L419.20,590.22 L419.70,589.59 L420.20,589.02 L420.70,588.54 L421.20,588.24 L421.70,588.12 L422.20,588.20 L422.70,588.47 L423.20,588.89 L423.70,589.38 L424.20,589.89 L424.70,590.35 L425.20,590.68 L425.70,590.84 L426.20,590.81 L426.70,590.58 L427.20,590.17 L427.70,589.62 L428.20,589.01 L428.70,588.40 L429.20,587.85 L429.70,587.44 L430.20,587.21 L430.70,587.17 L431.20,587.34 L431.70,587.67 L432.20,588.12 L432.70,588.63 L433.20,589.13 L433.70,589.54" fill="none" stroke="#b2ec3a" stroke-width="3.9" stroke-linecap="round" stroke-linejoin="round"/>
<path d="M406.20,591.40 L406.70,591.90 L407.20,592.34 L407.70,592.64 L408.20,592.77 L408.70,592.69 L409.20,592.42 L409.70,591.98 L410.20,591.42 L410.70,590.80 L411.20,590.19 L411.70,589.67 L412.20,589.29 L412.70,589.10 L413.20,589.10 L413.70,589.30 L414.20,589.66 L414.70,590.13 L415.20,590.65 L415.70,591.13 L416.20,591.52 L416.70,591.76 L417.20,591.80 L417.70,591.65 L418.20,591.31 L418.70,590.81 L419.20,590.22 L419.70,589.59 L420.20,589.02 L420.70,588.54 L421.20,588.24 L421.70,588.12 L422.20,588.20 L422.70,588.47 L423.20,588.89 L423.70,589.38 L424.20,589.89 L424.70,590.35 L425.20,590.68 L425.70,590.84 L426.20,590.81 L426.70,590.58 L427.20,590.17 L427.70,589.62 L428.20,589.01 L428.70,588.40 L429.20,587.85 L429.70,587.44 L430.20,587.21 L430.70,587.17 L431.20,587.34 L431.70,587.67 L432.20,588.12 L432.70,588.63 L433.20,589.13 L433.70,589.54" fill="none" stroke="#c8f83e" stroke-width="2.5" stroke-linecap="round" stroke-linejoin="round"/>
<text x="401.10" y="562.40" font-size="10.60" text-anchor="start" fill="#e3101b" font-weight="bold" stroke="#e3101b" stroke-width="0.3">Cu(II)S</text>
<text x="400.60" y="604.50" font-size="10.60" text-anchor="start" fill="#e3101b" font-weight="bold" stroke="#e3101b" stroke-width="0.3">Cu(III)S</text>
<text x="462.60" y="573.40" font-size="10.60" text-anchor="start" fill="#e3101b" font-weight="bold" stroke="#e3101b" stroke-width="0.3">Glucose</text>
<text x="462.60" y="595.50" font-size="10.60" text-anchor="start" fill="#e3101b" font-weight="bold" stroke="#e3101b" stroke-width="0.3">Gluconolactone</text>
<text x="454.00" y="626.90" font-size="10.60" text-anchor="start" fill="#e3101b" font-weight="bold" stroke="#e3101b" stroke-width="0.3">Gluconolactone</text>
<text x="454.00" y="647.30" font-size="10.60" text-anchor="start" fill="#e3101b" font-weight="bold" stroke="#e3101b" stroke-width="0.3">Glucose</text>
<path d="M478.8,614.2 C481,611 484,609 489,607.2 C494,605.8 499,606 502.5,603.2 C504,602 505,601.3 505.8,600.5" fill="none" stroke="#e01414" stroke-width="1.7" stroke-linecap="round"/>
<path d="M494.8,613.6 L532,615.5 L534.5,611.5 L540.5,621 L526.5,629.5 L524.5,624.5 L494.8,614.3 Z" fill="url(#arrG)"/>
<path d="M494.8,613.6 L532,615.5 L534.5,611.5" fill="none" stroke="#dce6f6" stroke-width="0.8"/>
<rect x="497" y="605.2" width="35" height="8.2" fill="#ffffff" opacity="0.35" filter="url(#blur1)"/>
<text x="498.10" y="612.00" font-size="7.30" text-anchor="start" fill="#000" font-weight="bold" >Hydrolysis</text>
<polygon points="539.0,628.8 551.0,624.0 543.8,620.0 561.4,618.4 559.0,611.2 574.2,615.2 582.2,609.6 588.6,615.2 603.0,607.2 602.3,616.0 616.7,614.4 610.3,620.0 632.7,622.4 615.1,627.2 619.1,637.6 605.5,633.6 600.7,640.5 591.0,636.8 583.0,646.4 576.6,638.4 559.0,647.2 560.6,638.4 546.2,636.8 552.6,632.0" fill="#f6cc46" stroke="#f8dc74" stroke-width="1.2" stroke-linejoin="miter"/>
<text x="581.60" y="625.30" font-size="8.50" text-anchor="middle" fill="#e3101b" font-weight="bold" stroke="#e3101b" stroke-width="0.25">Gluconic</text>
<text x="581.40" y="636.00" font-size="8.50" text-anchor="middle" fill="#e3101b" font-weight="bold" stroke="#e3101b" stroke-width="0.25">Acid</text>
<ellipse cx="285" cy="715.5" rx="20" ry="3.8" fill="#7880a0" opacity="0.42" filter="url(#blur2)"/>
<path d="M258.60,708.35 L259.10,708.76 L259.60,709.06 L260.10,709.23 L260.60,709.24 L261.10,709.09 L261.60,708.80 L262.10,708.39 L262.60,707.90 L263.10,707.37 L263.60,706.85 L264.10,706.39 L264.60,706.03 L265.10,705.79 L265.60,705.71 L266.10,705.78 L266.60,706.01 L267.10,706.35 L267.60,706.80 L268.10,707.29 L268.60,707.79 L269.10,708.25 L269.60,708.62 L270.10,708.87 L270.60,708.97 L271.10,708.92 L271.60,708.71 L272.10,708.37 L272.60,707.92 L273.10,707.41 L273.60,706.88 L274.10,706.38 L274.60,705.95 L275.10,705.64 L275.60,705.46 L276.10,705.44 L276.60,705.58 L277.10,705.85 L277.60,706.24 L278.10,706.71 L278.60,707.21 L279.10,707.70 L279.60,708.13 L280.10,708.45 L280.60,708.65 L281.10,708.69 L281.60,708.57 L282.10,708.31 L282.60,707.92 L283.10,707.44 L283.60,706.92 L284.10,706.40 L284.60,705.92 L285.10,705.53 L285.60,705.27 L286.10,705.15 L286.60,705.20 L287.10,705.39 L287.60,705.72 L288.10,706.14 L288.60,706.63 L289.10,707.13 L289.60,707.60 L290.10,707.99 L290.60,708.27 L291.10,708.40 L291.60,708.38 L292.10,708.20 L292.60,707.89 L293.10,707.46 L293.60,706.96 L294.10,706.43 L294.60,705.92 L295.10,705.47" fill="none" stroke="#b2ec3a" stroke-width="4.8" stroke-linecap="round" stroke-linejoin="round"/>
<path d="M258.60,708.35 L259.10,708.76 L259.60,709.06 L260.10,709.23 L260.60,709.24 L261.10,709.09 L261.60,708.80 L262.10,708.39 L262.60,707.90 L263.10,707.37 L263.60,706.85 L264.10,706.39 L264.60,706.03 L265.10,705.79 L265.60,705.71 L266.10,705.78 L266.60,706.01 L267.10,706.35 L267.60,706.80 L268.10,707.29 L268.60,707.79 L269.10,708.25 L269.60,708.62 L270.10,708.87 L270.60,708.97 L271.10,708.92 L271.60,708.71 L272.10,708.37 L272.60,707.92 L273.10,707.41 L273.60,706.88 L274.10,706.38 L274.60,705.95 L275.10,705.64 L275.60,705.46 L276.10,705.44 L276.60,705.58 L277.10,705.85 L277.60,706.24 L278.10,706.71 L278.60,707.21 L279.10,707.70 L279.60,708.13 L280.10,708.45 L280.60,708.65 L281.10,708.69 L281.60,708.57 L282.10,708.31 L282.60,707.92 L283.10,707.44 L283.60,706.92 L284.10,706.40 L284.60,705.92 L285.10,705.53 L285.60,705.27 L286.10,705.15 L286.60,705.20 L287.10,705.39 L287.60,705.72 L288.10,706.14 L288.60,706.63 L289.10,707.13 L289.60,707.60 L290.10,707.99 L290.60,708.27 L291.10,708.40 L291.60,708.38 L292.10,708.20 L292.60,707.89 L293.10,707.46 L293.60,706.96 L294.10,706.43 L294.60,705.92 L295.10,705.47" fill="none" stroke="#c8f83e" stroke-width="3.4" stroke-linecap="round" stroke-linejoin="round"/>
<text x="278.30" y="733.60" font-size="15.50" text-anchor="middle" fill="#000" font-weight="bold" >CuS</text>
<circle cx="352.1" cy="709.7" r="3" fill="url(#auG)"/>
<text x="353.10" y="733.60" font-size="15.50" text-anchor="middle" fill="#000" font-weight="bold" >Au</text>
</svg></body></html>
